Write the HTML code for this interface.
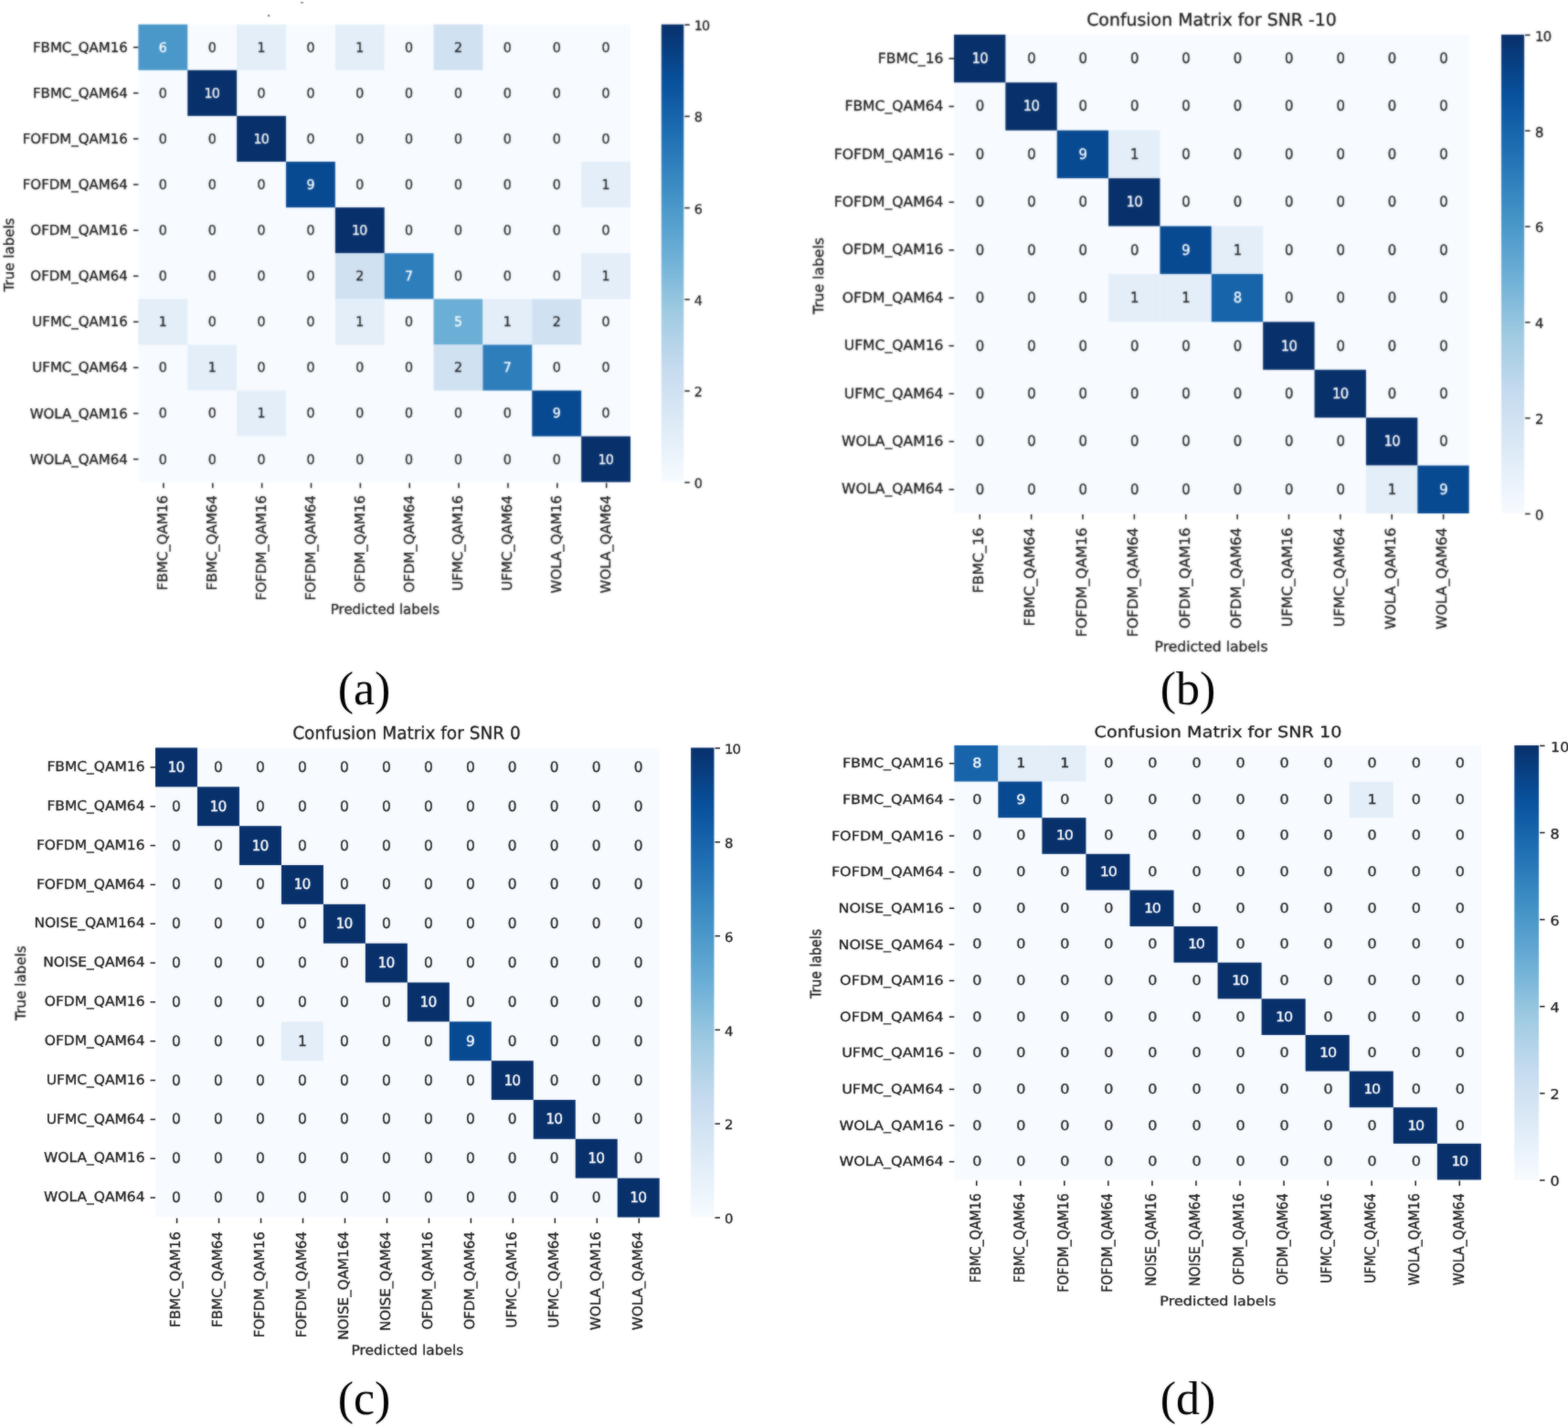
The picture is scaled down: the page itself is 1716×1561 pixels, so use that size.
<!DOCTYPE html>
<html lang="en">
<head>
<meta charset="utf-8">
<title>Confusion matrices</title>
<style>
html,body{margin:0;padding:0;background:#fff;}
body{width:1716px;height:1561px;}
svg{display:block;}
svg text{font-family:"DejaVu Sans","Liberation Sans",sans-serif;white-space:pre;text-rendering:geometricPrecision;}
svg text.cap{font-family:"Liberation Serif","DejaVu Serif",serif;}
</style>
</head>
<body>
<svg width="1716" height="1561" viewBox="0 0 1716 1561">
<rect width="1716" height="1561" fill="#ffffff"/>
<defs><filter id="bl" filterUnits="userSpaceOnUse" x="0" y="0" width="1716" height="1561" color-interpolation-filters="sRGB"><feGaussianBlur in="SourceGraphic" stdDeviation="1.0" result="b"/><feComposite in="SourceGraphic" in2="b" operator="arithmetic" k1="0" k2="0.6" k3="0.400" k4="0"/></filter></defs>
<defs><filter id="fa" filterUnits="userSpaceOnUse" x="0" y="0" width="858" height="700" color-interpolation-filters="sRGB"><feGaussianBlur in="SourceGraphic" stdDeviation="1.0" result="b"/><feComposite in="SourceGraphic" in2="b" operator="arithmetic" k1="0" k2="0.4" k3="0.600" k4="0"/></filter></defs>
<g class="p" filter="url(#fa)">
<rect x="151.40" y="26.70" width="538.60" height="501.00" fill="#f7fbff"/>
<rect x="151.40" y="26.70" width="53.86" height="50.10" fill="#4a98c9"/>
<rect x="259.12" y="26.70" width="53.86" height="50.10" fill="#e3eef9"/>
<rect x="366.84" y="26.70" width="53.86" height="50.10" fill="#e3eef9"/>
<rect x="474.56" y="26.70" width="53.86" height="50.10" fill="#d0e1f2"/>
<rect x="205.26" y="76.80" width="53.86" height="50.10" fill="#08306b"/>
<rect x="259.12" y="126.90" width="53.86" height="50.10" fill="#08306b"/>
<rect x="312.98" y="177.00" width="53.86" height="50.10" fill="#084a92"/>
<rect x="636.14" y="177.00" width="53.86" height="50.10" fill="#e3eef9"/>
<rect x="366.84" y="227.10" width="53.86" height="50.10" fill="#08306b"/>
<rect x="366.84" y="277.20" width="53.86" height="50.10" fill="#d0e1f2"/>
<rect x="420.70" y="277.20" width="53.86" height="50.10" fill="#2e7ebc"/>
<rect x="636.14" y="277.20" width="53.86" height="50.10" fill="#e3eef9"/>
<rect x="151.40" y="327.30" width="53.86" height="50.10" fill="#e3eef9"/>
<rect x="366.84" y="327.30" width="53.86" height="50.10" fill="#e3eef9"/>
<rect x="474.56" y="327.30" width="53.86" height="50.10" fill="#6baed6"/>
<rect x="528.42" y="327.30" width="53.86" height="50.10" fill="#e3eef9"/>
<rect x="582.28" y="327.30" width="53.86" height="50.10" fill="#d0e1f2"/>
<rect x="205.26" y="377.40" width="53.86" height="50.10" fill="#e3eef9"/>
<rect x="474.56" y="377.40" width="53.86" height="50.10" fill="#d0e1f2"/>
<rect x="528.42" y="377.40" width="53.86" height="50.10" fill="#2e7ebc"/>
<rect x="259.12" y="427.50" width="53.86" height="50.10" fill="#e3eef9"/>
<rect x="582.28" y="427.50" width="53.86" height="50.10" fill="#084a92"/>
<rect x="636.14" y="477.60" width="53.86" height="50.10" fill="#08306b"/>
<text transform="translate(178.33 56.69) scale(0.9709 1)" font-size="14.63" text-anchor="middle" fill="#ffffff" stroke="#ffffff" stroke-width="0.3">6</text>
<text transform="translate(232.19 56.69) scale(0.9709 1)" font-size="14.63" text-anchor="middle" fill="#262626" stroke="#262626" stroke-width="0.3">0</text>
<text transform="translate(286.05 56.69) scale(0.9709 1)" font-size="14.63" text-anchor="middle" fill="#262626" stroke="#262626" stroke-width="0.3">1</text>
<text transform="translate(339.91 56.69) scale(0.9709 1)" font-size="14.63" text-anchor="middle" fill="#262626" stroke="#262626" stroke-width="0.3">0</text>
<text transform="translate(393.77 56.69) scale(0.9709 1)" font-size="14.63" text-anchor="middle" fill="#262626" stroke="#262626" stroke-width="0.3">1</text>
<text transform="translate(447.63 56.69) scale(0.9709 1)" font-size="14.63" text-anchor="middle" fill="#262626" stroke="#262626" stroke-width="0.3">0</text>
<text transform="translate(501.49 56.69) scale(0.9709 1)" font-size="14.63" text-anchor="middle" fill="#262626" stroke="#262626" stroke-width="0.3">2</text>
<text transform="translate(555.35 56.69) scale(0.9709 1)" font-size="14.63" text-anchor="middle" fill="#262626" stroke="#262626" stroke-width="0.3">0</text>
<text transform="translate(609.21 56.69) scale(0.9709 1)" font-size="14.63" text-anchor="middle" fill="#262626" stroke="#262626" stroke-width="0.3">0</text>
<text transform="translate(663.07 56.69) scale(0.9709 1)" font-size="14.63" text-anchor="middle" fill="#262626" stroke="#262626" stroke-width="0.3">0</text>
<text transform="translate(178.33 106.79) scale(0.9709 1)" font-size="14.63" text-anchor="middle" fill="#262626" stroke="#262626" stroke-width="0.3">0</text>
<text transform="translate(231.79 106.79) scale(0.9709 1)" font-size="14.63" text-anchor="middle" fill="#ffffff" stroke="#ffffff" stroke-width="0.3" letter-spacing="-0.8">10</text>
<text transform="translate(286.05 106.79) scale(0.9709 1)" font-size="14.63" text-anchor="middle" fill="#262626" stroke="#262626" stroke-width="0.3">0</text>
<text transform="translate(339.91 106.79) scale(0.9709 1)" font-size="14.63" text-anchor="middle" fill="#262626" stroke="#262626" stroke-width="0.3">0</text>
<text transform="translate(393.77 106.79) scale(0.9709 1)" font-size="14.63" text-anchor="middle" fill="#262626" stroke="#262626" stroke-width="0.3">0</text>
<text transform="translate(447.63 106.79) scale(0.9709 1)" font-size="14.63" text-anchor="middle" fill="#262626" stroke="#262626" stroke-width="0.3">0</text>
<text transform="translate(501.49 106.79) scale(0.9709 1)" font-size="14.63" text-anchor="middle" fill="#262626" stroke="#262626" stroke-width="0.3">0</text>
<text transform="translate(555.35 106.79) scale(0.9709 1)" font-size="14.63" text-anchor="middle" fill="#262626" stroke="#262626" stroke-width="0.3">0</text>
<text transform="translate(609.21 106.79) scale(0.9709 1)" font-size="14.63" text-anchor="middle" fill="#262626" stroke="#262626" stroke-width="0.3">0</text>
<text transform="translate(663.07 106.79) scale(0.9709 1)" font-size="14.63" text-anchor="middle" fill="#262626" stroke="#262626" stroke-width="0.3">0</text>
<text transform="translate(178.33 156.89) scale(0.9709 1)" font-size="14.63" text-anchor="middle" fill="#262626" stroke="#262626" stroke-width="0.3">0</text>
<text transform="translate(232.19 156.89) scale(0.9709 1)" font-size="14.63" text-anchor="middle" fill="#262626" stroke="#262626" stroke-width="0.3">0</text>
<text transform="translate(285.65 156.89) scale(0.9709 1)" font-size="14.63" text-anchor="middle" fill="#ffffff" stroke="#ffffff" stroke-width="0.3" letter-spacing="-0.8">10</text>
<text transform="translate(339.91 156.89) scale(0.9709 1)" font-size="14.63" text-anchor="middle" fill="#262626" stroke="#262626" stroke-width="0.3">0</text>
<text transform="translate(393.77 156.89) scale(0.9709 1)" font-size="14.63" text-anchor="middle" fill="#262626" stroke="#262626" stroke-width="0.3">0</text>
<text transform="translate(447.63 156.89) scale(0.9709 1)" font-size="14.63" text-anchor="middle" fill="#262626" stroke="#262626" stroke-width="0.3">0</text>
<text transform="translate(501.49 156.89) scale(0.9709 1)" font-size="14.63" text-anchor="middle" fill="#262626" stroke="#262626" stroke-width="0.3">0</text>
<text transform="translate(555.35 156.89) scale(0.9709 1)" font-size="14.63" text-anchor="middle" fill="#262626" stroke="#262626" stroke-width="0.3">0</text>
<text transform="translate(609.21 156.89) scale(0.9709 1)" font-size="14.63" text-anchor="middle" fill="#262626" stroke="#262626" stroke-width="0.3">0</text>
<text transform="translate(663.07 156.89) scale(0.9709 1)" font-size="14.63" text-anchor="middle" fill="#262626" stroke="#262626" stroke-width="0.3">0</text>
<text transform="translate(178.33 206.99) scale(0.9709 1)" font-size="14.63" text-anchor="middle" fill="#262626" stroke="#262626" stroke-width="0.3">0</text>
<text transform="translate(232.19 206.99) scale(0.9709 1)" font-size="14.63" text-anchor="middle" fill="#262626" stroke="#262626" stroke-width="0.3">0</text>
<text transform="translate(286.05 206.99) scale(0.9709 1)" font-size="14.63" text-anchor="middle" fill="#262626" stroke="#262626" stroke-width="0.3">0</text>
<text transform="translate(339.91 206.99) scale(0.9709 1)" font-size="14.63" text-anchor="middle" fill="#ffffff" stroke="#ffffff" stroke-width="0.3">9</text>
<text transform="translate(393.77 206.99) scale(0.9709 1)" font-size="14.63" text-anchor="middle" fill="#262626" stroke="#262626" stroke-width="0.3">0</text>
<text transform="translate(447.63 206.99) scale(0.9709 1)" font-size="14.63" text-anchor="middle" fill="#262626" stroke="#262626" stroke-width="0.3">0</text>
<text transform="translate(501.49 206.99) scale(0.9709 1)" font-size="14.63" text-anchor="middle" fill="#262626" stroke="#262626" stroke-width="0.3">0</text>
<text transform="translate(555.35 206.99) scale(0.9709 1)" font-size="14.63" text-anchor="middle" fill="#262626" stroke="#262626" stroke-width="0.3">0</text>
<text transform="translate(609.21 206.99) scale(0.9709 1)" font-size="14.63" text-anchor="middle" fill="#262626" stroke="#262626" stroke-width="0.3">0</text>
<text transform="translate(663.07 206.99) scale(0.9709 1)" font-size="14.63" text-anchor="middle" fill="#262626" stroke="#262626" stroke-width="0.3">1</text>
<text transform="translate(178.33 257.09) scale(0.9709 1)" font-size="14.63" text-anchor="middle" fill="#262626" stroke="#262626" stroke-width="0.3">0</text>
<text transform="translate(232.19 257.09) scale(0.9709 1)" font-size="14.63" text-anchor="middle" fill="#262626" stroke="#262626" stroke-width="0.3">0</text>
<text transform="translate(286.05 257.09) scale(0.9709 1)" font-size="14.63" text-anchor="middle" fill="#262626" stroke="#262626" stroke-width="0.3">0</text>
<text transform="translate(339.91 257.09) scale(0.9709 1)" font-size="14.63" text-anchor="middle" fill="#262626" stroke="#262626" stroke-width="0.3">0</text>
<text transform="translate(393.37 257.09) scale(0.9709 1)" font-size="14.63" text-anchor="middle" fill="#ffffff" stroke="#ffffff" stroke-width="0.3" letter-spacing="-0.8">10</text>
<text transform="translate(447.63 257.09) scale(0.9709 1)" font-size="14.63" text-anchor="middle" fill="#262626" stroke="#262626" stroke-width="0.3">0</text>
<text transform="translate(501.49 257.09) scale(0.9709 1)" font-size="14.63" text-anchor="middle" fill="#262626" stroke="#262626" stroke-width="0.3">0</text>
<text transform="translate(555.35 257.09) scale(0.9709 1)" font-size="14.63" text-anchor="middle" fill="#262626" stroke="#262626" stroke-width="0.3">0</text>
<text transform="translate(609.21 257.09) scale(0.9709 1)" font-size="14.63" text-anchor="middle" fill="#262626" stroke="#262626" stroke-width="0.3">0</text>
<text transform="translate(663.07 257.09) scale(0.9709 1)" font-size="14.63" text-anchor="middle" fill="#262626" stroke="#262626" stroke-width="0.3">0</text>
<text transform="translate(178.33 307.19) scale(0.9709 1)" font-size="14.63" text-anchor="middle" fill="#262626" stroke="#262626" stroke-width="0.3">0</text>
<text transform="translate(232.19 307.19) scale(0.9709 1)" font-size="14.63" text-anchor="middle" fill="#262626" stroke="#262626" stroke-width="0.3">0</text>
<text transform="translate(286.05 307.19) scale(0.9709 1)" font-size="14.63" text-anchor="middle" fill="#262626" stroke="#262626" stroke-width="0.3">0</text>
<text transform="translate(339.91 307.19) scale(0.9709 1)" font-size="14.63" text-anchor="middle" fill="#262626" stroke="#262626" stroke-width="0.3">0</text>
<text transform="translate(393.77 307.19) scale(0.9709 1)" font-size="14.63" text-anchor="middle" fill="#262626" stroke="#262626" stroke-width="0.3">2</text>
<text transform="translate(447.63 307.19) scale(0.9709 1)" font-size="14.63" text-anchor="middle" fill="#ffffff" stroke="#ffffff" stroke-width="0.3">7</text>
<text transform="translate(501.49 307.19) scale(0.9709 1)" font-size="14.63" text-anchor="middle" fill="#262626" stroke="#262626" stroke-width="0.3">0</text>
<text transform="translate(555.35 307.19) scale(0.9709 1)" font-size="14.63" text-anchor="middle" fill="#262626" stroke="#262626" stroke-width="0.3">0</text>
<text transform="translate(609.21 307.19) scale(0.9709 1)" font-size="14.63" text-anchor="middle" fill="#262626" stroke="#262626" stroke-width="0.3">0</text>
<text transform="translate(663.07 307.19) scale(0.9709 1)" font-size="14.63" text-anchor="middle" fill="#262626" stroke="#262626" stroke-width="0.3">1</text>
<text transform="translate(178.33 357.29) scale(0.9709 1)" font-size="14.63" text-anchor="middle" fill="#262626" stroke="#262626" stroke-width="0.3">1</text>
<text transform="translate(232.19 357.29) scale(0.9709 1)" font-size="14.63" text-anchor="middle" fill="#262626" stroke="#262626" stroke-width="0.3">0</text>
<text transform="translate(286.05 357.29) scale(0.9709 1)" font-size="14.63" text-anchor="middle" fill="#262626" stroke="#262626" stroke-width="0.3">0</text>
<text transform="translate(339.91 357.29) scale(0.9709 1)" font-size="14.63" text-anchor="middle" fill="#262626" stroke="#262626" stroke-width="0.3">0</text>
<text transform="translate(393.77 357.29) scale(0.9709 1)" font-size="14.63" text-anchor="middle" fill="#262626" stroke="#262626" stroke-width="0.3">1</text>
<text transform="translate(447.63 357.29) scale(0.9709 1)" font-size="14.63" text-anchor="middle" fill="#262626" stroke="#262626" stroke-width="0.3">0</text>
<text transform="translate(501.49 357.29) scale(0.9709 1)" font-size="14.63" text-anchor="middle" fill="#ffffff" stroke="#ffffff" stroke-width="0.3">5</text>
<text transform="translate(555.35 357.29) scale(0.9709 1)" font-size="14.63" text-anchor="middle" fill="#262626" stroke="#262626" stroke-width="0.3">1</text>
<text transform="translate(609.21 357.29) scale(0.9709 1)" font-size="14.63" text-anchor="middle" fill="#262626" stroke="#262626" stroke-width="0.3">2</text>
<text transform="translate(663.07 357.29) scale(0.9709 1)" font-size="14.63" text-anchor="middle" fill="#262626" stroke="#262626" stroke-width="0.3">0</text>
<text transform="translate(178.33 407.39) scale(0.9709 1)" font-size="14.63" text-anchor="middle" fill="#262626" stroke="#262626" stroke-width="0.3">0</text>
<text transform="translate(232.19 407.39) scale(0.9709 1)" font-size="14.63" text-anchor="middle" fill="#262626" stroke="#262626" stroke-width="0.3">1</text>
<text transform="translate(286.05 407.39) scale(0.9709 1)" font-size="14.63" text-anchor="middle" fill="#262626" stroke="#262626" stroke-width="0.3">0</text>
<text transform="translate(339.91 407.39) scale(0.9709 1)" font-size="14.63" text-anchor="middle" fill="#262626" stroke="#262626" stroke-width="0.3">0</text>
<text transform="translate(393.77 407.39) scale(0.9709 1)" font-size="14.63" text-anchor="middle" fill="#262626" stroke="#262626" stroke-width="0.3">0</text>
<text transform="translate(447.63 407.39) scale(0.9709 1)" font-size="14.63" text-anchor="middle" fill="#262626" stroke="#262626" stroke-width="0.3">0</text>
<text transform="translate(501.49 407.39) scale(0.9709 1)" font-size="14.63" text-anchor="middle" fill="#262626" stroke="#262626" stroke-width="0.3">2</text>
<text transform="translate(555.35 407.39) scale(0.9709 1)" font-size="14.63" text-anchor="middle" fill="#ffffff" stroke="#ffffff" stroke-width="0.3">7</text>
<text transform="translate(609.21 407.39) scale(0.9709 1)" font-size="14.63" text-anchor="middle" fill="#262626" stroke="#262626" stroke-width="0.3">0</text>
<text transform="translate(663.07 407.39) scale(0.9709 1)" font-size="14.63" text-anchor="middle" fill="#262626" stroke="#262626" stroke-width="0.3">0</text>
<text transform="translate(178.33 457.49) scale(0.9709 1)" font-size="14.63" text-anchor="middle" fill="#262626" stroke="#262626" stroke-width="0.3">0</text>
<text transform="translate(232.19 457.49) scale(0.9709 1)" font-size="14.63" text-anchor="middle" fill="#262626" stroke="#262626" stroke-width="0.3">0</text>
<text transform="translate(286.05 457.49) scale(0.9709 1)" font-size="14.63" text-anchor="middle" fill="#262626" stroke="#262626" stroke-width="0.3">1</text>
<text transform="translate(339.91 457.49) scale(0.9709 1)" font-size="14.63" text-anchor="middle" fill="#262626" stroke="#262626" stroke-width="0.3">0</text>
<text transform="translate(393.77 457.49) scale(0.9709 1)" font-size="14.63" text-anchor="middle" fill="#262626" stroke="#262626" stroke-width="0.3">0</text>
<text transform="translate(447.63 457.49) scale(0.9709 1)" font-size="14.63" text-anchor="middle" fill="#262626" stroke="#262626" stroke-width="0.3">0</text>
<text transform="translate(501.49 457.49) scale(0.9709 1)" font-size="14.63" text-anchor="middle" fill="#262626" stroke="#262626" stroke-width="0.3">0</text>
<text transform="translate(555.35 457.49) scale(0.9709 1)" font-size="14.63" text-anchor="middle" fill="#262626" stroke="#262626" stroke-width="0.3">0</text>
<text transform="translate(609.21 457.49) scale(0.9709 1)" font-size="14.63" text-anchor="middle" fill="#ffffff" stroke="#ffffff" stroke-width="0.3">9</text>
<text transform="translate(663.07 457.49) scale(0.9709 1)" font-size="14.63" text-anchor="middle" fill="#262626" stroke="#262626" stroke-width="0.3">0</text>
<text transform="translate(178.33 507.59) scale(0.9709 1)" font-size="14.63" text-anchor="middle" fill="#262626" stroke="#262626" stroke-width="0.3">0</text>
<text transform="translate(232.19 507.59) scale(0.9709 1)" font-size="14.63" text-anchor="middle" fill="#262626" stroke="#262626" stroke-width="0.3">0</text>
<text transform="translate(286.05 507.59) scale(0.9709 1)" font-size="14.63" text-anchor="middle" fill="#262626" stroke="#262626" stroke-width="0.3">0</text>
<text transform="translate(339.91 507.59) scale(0.9709 1)" font-size="14.63" text-anchor="middle" fill="#262626" stroke="#262626" stroke-width="0.3">0</text>
<text transform="translate(393.77 507.59) scale(0.9709 1)" font-size="14.63" text-anchor="middle" fill="#262626" stroke="#262626" stroke-width="0.3">0</text>
<text transform="translate(447.63 507.59) scale(0.9709 1)" font-size="14.63" text-anchor="middle" fill="#262626" stroke="#262626" stroke-width="0.3">0</text>
<text transform="translate(501.49 507.59) scale(0.9709 1)" font-size="14.63" text-anchor="middle" fill="#262626" stroke="#262626" stroke-width="0.3">0</text>
<text transform="translate(555.35 507.59) scale(0.9709 1)" font-size="14.63" text-anchor="middle" fill="#262626" stroke="#262626" stroke-width="0.3">0</text>
<text transform="translate(609.21 507.59) scale(0.9709 1)" font-size="14.63" text-anchor="middle" fill="#262626" stroke="#262626" stroke-width="0.3">0</text>
<text transform="translate(662.67 507.59) scale(0.9709 1)" font-size="14.63" text-anchor="middle" fill="#ffffff" stroke="#ffffff" stroke-width="0.3" letter-spacing="-0.8">10</text>
<rect x="145.90" y="51.00" width="5.50" height="1.50" fill="#1a1a1a"/>
<text transform="translate(139.90 56.73)" font-size="15.00" text-anchor="end" fill="#1a1a1a" stroke="#1a1a1a" stroke-width="0.3">FBMC_QAM16</text>
<rect x="145.90" y="101.10" width="5.50" height="1.50" fill="#1a1a1a"/>
<text transform="translate(139.90 106.83)" font-size="15.00" text-anchor="end" fill="#1a1a1a" stroke="#1a1a1a" stroke-width="0.3">FBMC_QAM64</text>
<rect x="145.90" y="151.20" width="5.50" height="1.50" fill="#1a1a1a"/>
<text transform="translate(139.90 156.93)" font-size="15.00" text-anchor="end" fill="#1a1a1a" stroke="#1a1a1a" stroke-width="0.3">FOFDM_QAM16</text>
<rect x="145.90" y="201.30" width="5.50" height="1.50" fill="#1a1a1a"/>
<text transform="translate(139.90 207.03)" font-size="15.00" text-anchor="end" fill="#1a1a1a" stroke="#1a1a1a" stroke-width="0.3">FOFDM_QAM64</text>
<rect x="145.90" y="251.40" width="5.50" height="1.50" fill="#1a1a1a"/>
<text transform="translate(139.90 257.13)" font-size="15.00" text-anchor="end" fill="#1a1a1a" stroke="#1a1a1a" stroke-width="0.3">OFDM_QAM16</text>
<rect x="145.90" y="301.50" width="5.50" height="1.50" fill="#1a1a1a"/>
<text transform="translate(139.90 307.23)" font-size="15.00" text-anchor="end" fill="#1a1a1a" stroke="#1a1a1a" stroke-width="0.3">OFDM_QAM64</text>
<rect x="145.90" y="351.60" width="5.50" height="1.50" fill="#1a1a1a"/>
<text transform="translate(139.90 357.33)" font-size="15.00" text-anchor="end" fill="#1a1a1a" stroke="#1a1a1a" stroke-width="0.3">UFMC_QAM16</text>
<rect x="145.90" y="401.70" width="5.50" height="1.50" fill="#1a1a1a"/>
<text transform="translate(139.90 407.43)" font-size="15.00" text-anchor="end" fill="#1a1a1a" stroke="#1a1a1a" stroke-width="0.3">UFMC_QAM64</text>
<rect x="145.90" y="451.80" width="5.50" height="1.50" fill="#1a1a1a"/>
<text transform="translate(139.90 457.53)" font-size="15.00" text-anchor="end" fill="#1a1a1a" stroke="#1a1a1a" stroke-width="0.3">WOLA_QAM16</text>
<rect x="145.90" y="501.90" width="5.50" height="1.50" fill="#1a1a1a"/>
<text transform="translate(139.90 507.63)" font-size="15.00" text-anchor="end" fill="#1a1a1a" stroke="#1a1a1a" stroke-width="0.3">WOLA_QAM64</text>
<rect x="178.18" y="528.70" width="1.50" height="5.50" fill="#1a1a1a"/>
<text transform="translate(183.21 542.20) rotate(-90)" font-size="15.00" text-anchor="end" fill="#1a1a1a" stroke="#1a1a1a" stroke-width="0.3">FBMC_QAM16</text>
<rect x="232.04" y="528.70" width="1.50" height="5.50" fill="#1a1a1a"/>
<text transform="translate(237.06 542.20) rotate(-90)" font-size="15.00" text-anchor="end" fill="#1a1a1a" stroke="#1a1a1a" stroke-width="0.3">FBMC_QAM64</text>
<rect x="285.90" y="528.70" width="1.50" height="5.50" fill="#1a1a1a"/>
<text transform="translate(290.93 542.20) rotate(-90)" font-size="15.00" text-anchor="end" fill="#1a1a1a" stroke="#1a1a1a" stroke-width="0.3">FOFDM_QAM16</text>
<rect x="339.76" y="528.70" width="1.50" height="5.50" fill="#1a1a1a"/>
<text transform="translate(344.79 542.20) rotate(-90)" font-size="15.00" text-anchor="end" fill="#1a1a1a" stroke="#1a1a1a" stroke-width="0.3">FOFDM_QAM64</text>
<rect x="393.62" y="528.70" width="1.50" height="5.50" fill="#1a1a1a"/>
<text transform="translate(398.65 542.20) rotate(-90)" font-size="15.00" text-anchor="end" fill="#1a1a1a" stroke="#1a1a1a" stroke-width="0.3">OFDM_QAM16</text>
<rect x="447.48" y="528.70" width="1.50" height="5.50" fill="#1a1a1a"/>
<text transform="translate(452.51 542.20) rotate(-90)" font-size="15.00" text-anchor="end" fill="#1a1a1a" stroke="#1a1a1a" stroke-width="0.3">OFDM_QAM64</text>
<rect x="501.34" y="528.70" width="1.50" height="5.50" fill="#1a1a1a"/>
<text transform="translate(506.37 542.20) rotate(-90)" font-size="15.00" text-anchor="end" fill="#1a1a1a" stroke="#1a1a1a" stroke-width="0.3">UFMC_QAM16</text>
<rect x="555.20" y="528.70" width="1.50" height="5.50" fill="#1a1a1a"/>
<text transform="translate(560.23 542.20) rotate(-90)" font-size="15.00" text-anchor="end" fill="#1a1a1a" stroke="#1a1a1a" stroke-width="0.3">UFMC_QAM64</text>
<rect x="609.06" y="528.70" width="1.50" height="5.50" fill="#1a1a1a"/>
<text transform="translate(614.09 542.20) rotate(-90)" font-size="15.00" text-anchor="end" fill="#1a1a1a" stroke="#1a1a1a" stroke-width="0.3">WOLA_QAM16</text>
<rect x="662.92" y="528.70" width="1.50" height="5.50" fill="#1a1a1a"/>
<text transform="translate(667.95 542.20) rotate(-90)" font-size="15.00" text-anchor="end" fill="#1a1a1a" stroke="#1a1a1a" stroke-width="0.3">WOLA_QAM64</text>
<text transform="translate(421.40 672.00)" font-size="15.00" text-anchor="middle" fill="#1a1a1a" stroke="#1a1a1a" stroke-width="0.3">Predicted labels</text>
<text transform="translate(14.70 279.00) rotate(-90)" font-size="15.00" text-anchor="middle" fill="#1a1a1a" stroke="#1a1a1a" stroke-width="0.3">True labels</text>
<defs><linearGradient id="ga" x1="0" y1="0" x2="0" y2="1"><stop offset="0.0000" stop-color="#08306b"/><stop offset="0.1250" stop-color="#08519c"/><stop offset="0.2500" stop-color="#2171b5"/><stop offset="0.3750" stop-color="#4292c6"/><stop offset="0.5000" stop-color="#6baed6"/><stop offset="0.6250" stop-color="#9ecae1"/><stop offset="0.7500" stop-color="#c6dbef"/><stop offset="0.8750" stop-color="#deebf7"/><stop offset="1.0000" stop-color="#f7fbff"/></linearGradient></defs>
<rect x="723.80" y="26.70" width="24.50" height="501.00" fill="url(#ga)"/>
<rect x="749.30" y="527.45" width="5.50" height="1.50" fill="#1a1a1a"/>
<text transform="translate(759.80 534.22)" font-size="14.30" text-anchor="start" fill="#1a1a1a" stroke="#1a1a1a" stroke-width="0.3">0</text>
<rect x="749.30" y="427.25" width="5.50" height="1.50" fill="#1a1a1a"/>
<text transform="translate(759.80 434.02)" font-size="14.30" text-anchor="start" fill="#1a1a1a" stroke="#1a1a1a" stroke-width="0.3">2</text>
<rect x="749.30" y="327.05" width="5.50" height="1.50" fill="#1a1a1a"/>
<text transform="translate(759.80 333.82)" font-size="14.30" text-anchor="start" fill="#1a1a1a" stroke="#1a1a1a" stroke-width="0.3">4</text>
<rect x="749.30" y="226.85" width="5.50" height="1.50" fill="#1a1a1a"/>
<text transform="translate(759.80 233.62)" font-size="14.30" text-anchor="start" fill="#1a1a1a" stroke="#1a1a1a" stroke-width="0.3">6</text>
<rect x="749.30" y="126.65" width="5.50" height="1.50" fill="#1a1a1a"/>
<text transform="translate(759.80 133.42)" font-size="14.30" text-anchor="start" fill="#1a1a1a" stroke="#1a1a1a" stroke-width="0.3">8</text>
<rect x="749.30" y="26.45" width="5.50" height="1.50" fill="#1a1a1a"/>
<text transform="translate(759.80 33.22)" font-size="14.30" text-anchor="start" fill="#1a1a1a" stroke="#1a1a1a" stroke-width="0.3" letter-spacing="-0.8">10</text>
<rect x="293.2" y="16.2" width="1.9" height="1.9" fill="#555"/><rect x="328.8" y="2.2" width="3.2" height="1.3" fill="#666"/>
</g>
<defs><filter id="fb" filterUnits="userSpaceOnUse" x="858" y="0" width="858" height="730" color-interpolation-filters="sRGB"><feGaussianBlur in="SourceGraphic" stdDeviation="1.0" result="b"/><feComposite in="SourceGraphic" in2="b" operator="arithmetic" k1="0" k2="0.4" k3="0.600" k4="0"/></filter></defs>
<g class="p" filter="url(#fb)">
<rect x="1044.00" y="37.90" width="563.70" height="524.10" fill="#f7fbff"/>
<rect x="1044.00" y="37.90" width="56.37" height="52.41" fill="#08306b"/>
<rect x="1100.37" y="90.31" width="56.37" height="52.41" fill="#08306b"/>
<rect x="1156.74" y="142.72" width="56.37" height="52.41" fill="#084a92"/>
<rect x="1213.11" y="142.72" width="56.37" height="52.41" fill="#e3eef9"/>
<rect x="1213.11" y="195.13" width="56.37" height="52.41" fill="#08306b"/>
<rect x="1269.48" y="247.54" width="56.37" height="52.41" fill="#084a92"/>
<rect x="1325.85" y="247.54" width="56.37" height="52.41" fill="#e3eef9"/>
<rect x="1213.11" y="299.95" width="56.37" height="52.41" fill="#e3eef9"/>
<rect x="1269.48" y="299.95" width="56.37" height="52.41" fill="#e3eef9"/>
<rect x="1325.85" y="299.95" width="56.37" height="52.41" fill="#1764ab"/>
<rect x="1382.22" y="352.36" width="56.37" height="52.41" fill="#08306b"/>
<rect x="1438.59" y="404.77" width="56.37" height="52.41" fill="#08306b"/>
<rect x="1494.96" y="457.18" width="56.37" height="52.41" fill="#08306b"/>
<rect x="1494.96" y="509.59" width="56.37" height="52.41" fill="#e3eef9"/>
<rect x="1551.33" y="509.59" width="56.37" height="52.41" fill="#084a92"/>
<text transform="translate(1072.18 69.07) scale(0.9434 1)" font-size="15.79" text-anchor="middle" fill="#ffffff" stroke="#ffffff" stroke-width="0.3" letter-spacing="-0.8">10</text>
<text transform="translate(1128.96 69.07) scale(0.9434 1)" font-size="15.79" text-anchor="middle" fill="#262626" stroke="#262626" stroke-width="0.3">0</text>
<text transform="translate(1185.33 69.07) scale(0.9434 1)" font-size="15.79" text-anchor="middle" fill="#262626" stroke="#262626" stroke-width="0.3">0</text>
<text transform="translate(1241.70 69.07) scale(0.9434 1)" font-size="15.79" text-anchor="middle" fill="#262626" stroke="#262626" stroke-width="0.3">0</text>
<text transform="translate(1298.07 69.07) scale(0.9434 1)" font-size="15.79" text-anchor="middle" fill="#262626" stroke="#262626" stroke-width="0.3">0</text>
<text transform="translate(1354.44 69.07) scale(0.9434 1)" font-size="15.79" text-anchor="middle" fill="#262626" stroke="#262626" stroke-width="0.3">0</text>
<text transform="translate(1410.81 69.07) scale(0.9434 1)" font-size="15.79" text-anchor="middle" fill="#262626" stroke="#262626" stroke-width="0.3">0</text>
<text transform="translate(1467.18 69.07) scale(0.9434 1)" font-size="15.79" text-anchor="middle" fill="#262626" stroke="#262626" stroke-width="0.3">0</text>
<text transform="translate(1523.55 69.07) scale(0.9434 1)" font-size="15.79" text-anchor="middle" fill="#262626" stroke="#262626" stroke-width="0.3">0</text>
<text transform="translate(1579.92 69.07) scale(0.9434 1)" font-size="15.79" text-anchor="middle" fill="#262626" stroke="#262626" stroke-width="0.3">0</text>
<text transform="translate(1072.59 121.48) scale(0.9434 1)" font-size="15.79" text-anchor="middle" fill="#262626" stroke="#262626" stroke-width="0.3">0</text>
<text transform="translate(1128.56 121.48) scale(0.9434 1)" font-size="15.79" text-anchor="middle" fill="#ffffff" stroke="#ffffff" stroke-width="0.3" letter-spacing="-0.8">10</text>
<text transform="translate(1185.33 121.48) scale(0.9434 1)" font-size="15.79" text-anchor="middle" fill="#262626" stroke="#262626" stroke-width="0.3">0</text>
<text transform="translate(1241.70 121.48) scale(0.9434 1)" font-size="15.79" text-anchor="middle" fill="#262626" stroke="#262626" stroke-width="0.3">0</text>
<text transform="translate(1298.07 121.48) scale(0.9434 1)" font-size="15.79" text-anchor="middle" fill="#262626" stroke="#262626" stroke-width="0.3">0</text>
<text transform="translate(1354.44 121.48) scale(0.9434 1)" font-size="15.79" text-anchor="middle" fill="#262626" stroke="#262626" stroke-width="0.3">0</text>
<text transform="translate(1410.81 121.48) scale(0.9434 1)" font-size="15.79" text-anchor="middle" fill="#262626" stroke="#262626" stroke-width="0.3">0</text>
<text transform="translate(1467.18 121.48) scale(0.9434 1)" font-size="15.79" text-anchor="middle" fill="#262626" stroke="#262626" stroke-width="0.3">0</text>
<text transform="translate(1523.55 121.48) scale(0.9434 1)" font-size="15.79" text-anchor="middle" fill="#262626" stroke="#262626" stroke-width="0.3">0</text>
<text transform="translate(1579.92 121.48) scale(0.9434 1)" font-size="15.79" text-anchor="middle" fill="#262626" stroke="#262626" stroke-width="0.3">0</text>
<text transform="translate(1072.59 173.89) scale(0.9434 1)" font-size="15.79" text-anchor="middle" fill="#262626" stroke="#262626" stroke-width="0.3">0</text>
<text transform="translate(1128.96 173.89) scale(0.9434 1)" font-size="15.79" text-anchor="middle" fill="#262626" stroke="#262626" stroke-width="0.3">0</text>
<text transform="translate(1185.33 173.89) scale(0.9434 1)" font-size="15.79" text-anchor="middle" fill="#ffffff" stroke="#ffffff" stroke-width="0.3">9</text>
<text transform="translate(1241.70 173.89) scale(0.9434 1)" font-size="15.79" text-anchor="middle" fill="#262626" stroke="#262626" stroke-width="0.3">1</text>
<text transform="translate(1298.07 173.89) scale(0.9434 1)" font-size="15.79" text-anchor="middle" fill="#262626" stroke="#262626" stroke-width="0.3">0</text>
<text transform="translate(1354.44 173.89) scale(0.9434 1)" font-size="15.79" text-anchor="middle" fill="#262626" stroke="#262626" stroke-width="0.3">0</text>
<text transform="translate(1410.81 173.89) scale(0.9434 1)" font-size="15.79" text-anchor="middle" fill="#262626" stroke="#262626" stroke-width="0.3">0</text>
<text transform="translate(1467.18 173.89) scale(0.9434 1)" font-size="15.79" text-anchor="middle" fill="#262626" stroke="#262626" stroke-width="0.3">0</text>
<text transform="translate(1523.55 173.89) scale(0.9434 1)" font-size="15.79" text-anchor="middle" fill="#262626" stroke="#262626" stroke-width="0.3">0</text>
<text transform="translate(1579.92 173.89) scale(0.9434 1)" font-size="15.79" text-anchor="middle" fill="#262626" stroke="#262626" stroke-width="0.3">0</text>
<text transform="translate(1072.59 226.30) scale(0.9434 1)" font-size="15.79" text-anchor="middle" fill="#262626" stroke="#262626" stroke-width="0.3">0</text>
<text transform="translate(1128.96 226.30) scale(0.9434 1)" font-size="15.79" text-anchor="middle" fill="#262626" stroke="#262626" stroke-width="0.3">0</text>
<text transform="translate(1185.33 226.30) scale(0.9434 1)" font-size="15.79" text-anchor="middle" fill="#262626" stroke="#262626" stroke-width="0.3">0</text>
<text transform="translate(1241.30 226.30) scale(0.9434 1)" font-size="15.79" text-anchor="middle" fill="#ffffff" stroke="#ffffff" stroke-width="0.3" letter-spacing="-0.8">10</text>
<text transform="translate(1298.07 226.30) scale(0.9434 1)" font-size="15.79" text-anchor="middle" fill="#262626" stroke="#262626" stroke-width="0.3">0</text>
<text transform="translate(1354.44 226.30) scale(0.9434 1)" font-size="15.79" text-anchor="middle" fill="#262626" stroke="#262626" stroke-width="0.3">0</text>
<text transform="translate(1410.81 226.30) scale(0.9434 1)" font-size="15.79" text-anchor="middle" fill="#262626" stroke="#262626" stroke-width="0.3">0</text>
<text transform="translate(1467.18 226.30) scale(0.9434 1)" font-size="15.79" text-anchor="middle" fill="#262626" stroke="#262626" stroke-width="0.3">0</text>
<text transform="translate(1523.55 226.30) scale(0.9434 1)" font-size="15.79" text-anchor="middle" fill="#262626" stroke="#262626" stroke-width="0.3">0</text>
<text transform="translate(1579.92 226.30) scale(0.9434 1)" font-size="15.79" text-anchor="middle" fill="#262626" stroke="#262626" stroke-width="0.3">0</text>
<text transform="translate(1072.59 278.71) scale(0.9434 1)" font-size="15.79" text-anchor="middle" fill="#262626" stroke="#262626" stroke-width="0.3">0</text>
<text transform="translate(1128.96 278.71) scale(0.9434 1)" font-size="15.79" text-anchor="middle" fill="#262626" stroke="#262626" stroke-width="0.3">0</text>
<text transform="translate(1185.33 278.71) scale(0.9434 1)" font-size="15.79" text-anchor="middle" fill="#262626" stroke="#262626" stroke-width="0.3">0</text>
<text transform="translate(1241.70 278.71) scale(0.9434 1)" font-size="15.79" text-anchor="middle" fill="#262626" stroke="#262626" stroke-width="0.3">0</text>
<text transform="translate(1298.07 278.71) scale(0.9434 1)" font-size="15.79" text-anchor="middle" fill="#ffffff" stroke="#ffffff" stroke-width="0.3">9</text>
<text transform="translate(1354.44 278.71) scale(0.9434 1)" font-size="15.79" text-anchor="middle" fill="#262626" stroke="#262626" stroke-width="0.3">1</text>
<text transform="translate(1410.81 278.71) scale(0.9434 1)" font-size="15.79" text-anchor="middle" fill="#262626" stroke="#262626" stroke-width="0.3">0</text>
<text transform="translate(1467.18 278.71) scale(0.9434 1)" font-size="15.79" text-anchor="middle" fill="#262626" stroke="#262626" stroke-width="0.3">0</text>
<text transform="translate(1523.55 278.71) scale(0.9434 1)" font-size="15.79" text-anchor="middle" fill="#262626" stroke="#262626" stroke-width="0.3">0</text>
<text transform="translate(1579.92 278.71) scale(0.9434 1)" font-size="15.79" text-anchor="middle" fill="#262626" stroke="#262626" stroke-width="0.3">0</text>
<text transform="translate(1072.59 331.12) scale(0.9434 1)" font-size="15.79" text-anchor="middle" fill="#262626" stroke="#262626" stroke-width="0.3">0</text>
<text transform="translate(1128.96 331.12) scale(0.9434 1)" font-size="15.79" text-anchor="middle" fill="#262626" stroke="#262626" stroke-width="0.3">0</text>
<text transform="translate(1185.33 331.12) scale(0.9434 1)" font-size="15.79" text-anchor="middle" fill="#262626" stroke="#262626" stroke-width="0.3">0</text>
<text transform="translate(1241.70 331.12) scale(0.9434 1)" font-size="15.79" text-anchor="middle" fill="#262626" stroke="#262626" stroke-width="0.3">1</text>
<text transform="translate(1298.07 331.12) scale(0.9434 1)" font-size="15.79" text-anchor="middle" fill="#262626" stroke="#262626" stroke-width="0.3">1</text>
<text transform="translate(1354.44 331.12) scale(0.9434 1)" font-size="15.79" text-anchor="middle" fill="#ffffff" stroke="#ffffff" stroke-width="0.3">8</text>
<text transform="translate(1410.81 331.12) scale(0.9434 1)" font-size="15.79" text-anchor="middle" fill="#262626" stroke="#262626" stroke-width="0.3">0</text>
<text transform="translate(1467.18 331.12) scale(0.9434 1)" font-size="15.79" text-anchor="middle" fill="#262626" stroke="#262626" stroke-width="0.3">0</text>
<text transform="translate(1523.55 331.12) scale(0.9434 1)" font-size="15.79" text-anchor="middle" fill="#262626" stroke="#262626" stroke-width="0.3">0</text>
<text transform="translate(1579.92 331.12) scale(0.9434 1)" font-size="15.79" text-anchor="middle" fill="#262626" stroke="#262626" stroke-width="0.3">0</text>
<text transform="translate(1072.59 383.53) scale(0.9434 1)" font-size="15.79" text-anchor="middle" fill="#262626" stroke="#262626" stroke-width="0.3">0</text>
<text transform="translate(1128.96 383.53) scale(0.9434 1)" font-size="15.79" text-anchor="middle" fill="#262626" stroke="#262626" stroke-width="0.3">0</text>
<text transform="translate(1185.33 383.53) scale(0.9434 1)" font-size="15.79" text-anchor="middle" fill="#262626" stroke="#262626" stroke-width="0.3">0</text>
<text transform="translate(1241.70 383.53) scale(0.9434 1)" font-size="15.79" text-anchor="middle" fill="#262626" stroke="#262626" stroke-width="0.3">0</text>
<text transform="translate(1298.07 383.53) scale(0.9434 1)" font-size="15.79" text-anchor="middle" fill="#262626" stroke="#262626" stroke-width="0.3">0</text>
<text transform="translate(1354.44 383.53) scale(0.9434 1)" font-size="15.79" text-anchor="middle" fill="#262626" stroke="#262626" stroke-width="0.3">0</text>
<text transform="translate(1410.40 383.53) scale(0.9434 1)" font-size="15.79" text-anchor="middle" fill="#ffffff" stroke="#ffffff" stroke-width="0.3" letter-spacing="-0.8">10</text>
<text transform="translate(1467.18 383.53) scale(0.9434 1)" font-size="15.79" text-anchor="middle" fill="#262626" stroke="#262626" stroke-width="0.3">0</text>
<text transform="translate(1523.55 383.53) scale(0.9434 1)" font-size="15.79" text-anchor="middle" fill="#262626" stroke="#262626" stroke-width="0.3">0</text>
<text transform="translate(1579.92 383.53) scale(0.9434 1)" font-size="15.79" text-anchor="middle" fill="#262626" stroke="#262626" stroke-width="0.3">0</text>
<text transform="translate(1072.59 435.94) scale(0.9434 1)" font-size="15.79" text-anchor="middle" fill="#262626" stroke="#262626" stroke-width="0.3">0</text>
<text transform="translate(1128.96 435.94) scale(0.9434 1)" font-size="15.79" text-anchor="middle" fill="#262626" stroke="#262626" stroke-width="0.3">0</text>
<text transform="translate(1185.33 435.94) scale(0.9434 1)" font-size="15.79" text-anchor="middle" fill="#262626" stroke="#262626" stroke-width="0.3">0</text>
<text transform="translate(1241.70 435.94) scale(0.9434 1)" font-size="15.79" text-anchor="middle" fill="#262626" stroke="#262626" stroke-width="0.3">0</text>
<text transform="translate(1298.07 435.94) scale(0.9434 1)" font-size="15.79" text-anchor="middle" fill="#262626" stroke="#262626" stroke-width="0.3">0</text>
<text transform="translate(1354.44 435.94) scale(0.9434 1)" font-size="15.79" text-anchor="middle" fill="#262626" stroke="#262626" stroke-width="0.3">0</text>
<text transform="translate(1410.81 435.94) scale(0.9434 1)" font-size="15.79" text-anchor="middle" fill="#262626" stroke="#262626" stroke-width="0.3">0</text>
<text transform="translate(1466.78 435.94) scale(0.9434 1)" font-size="15.79" text-anchor="middle" fill="#ffffff" stroke="#ffffff" stroke-width="0.3" letter-spacing="-0.8">10</text>
<text transform="translate(1523.55 435.94) scale(0.9434 1)" font-size="15.79" text-anchor="middle" fill="#262626" stroke="#262626" stroke-width="0.3">0</text>
<text transform="translate(1579.92 435.94) scale(0.9434 1)" font-size="15.79" text-anchor="middle" fill="#262626" stroke="#262626" stroke-width="0.3">0</text>
<text transform="translate(1072.59 488.35) scale(0.9434 1)" font-size="15.79" text-anchor="middle" fill="#262626" stroke="#262626" stroke-width="0.3">0</text>
<text transform="translate(1128.96 488.35) scale(0.9434 1)" font-size="15.79" text-anchor="middle" fill="#262626" stroke="#262626" stroke-width="0.3">0</text>
<text transform="translate(1185.33 488.35) scale(0.9434 1)" font-size="15.79" text-anchor="middle" fill="#262626" stroke="#262626" stroke-width="0.3">0</text>
<text transform="translate(1241.70 488.35) scale(0.9434 1)" font-size="15.79" text-anchor="middle" fill="#262626" stroke="#262626" stroke-width="0.3">0</text>
<text transform="translate(1298.07 488.35) scale(0.9434 1)" font-size="15.79" text-anchor="middle" fill="#262626" stroke="#262626" stroke-width="0.3">0</text>
<text transform="translate(1354.44 488.35) scale(0.9434 1)" font-size="15.79" text-anchor="middle" fill="#262626" stroke="#262626" stroke-width="0.3">0</text>
<text transform="translate(1410.81 488.35) scale(0.9434 1)" font-size="15.79" text-anchor="middle" fill="#262626" stroke="#262626" stroke-width="0.3">0</text>
<text transform="translate(1467.18 488.35) scale(0.9434 1)" font-size="15.79" text-anchor="middle" fill="#262626" stroke="#262626" stroke-width="0.3">0</text>
<text transform="translate(1523.14 488.35) scale(0.9434 1)" font-size="15.79" text-anchor="middle" fill="#ffffff" stroke="#ffffff" stroke-width="0.3" letter-spacing="-0.8">10</text>
<text transform="translate(1579.92 488.35) scale(0.9434 1)" font-size="15.79" text-anchor="middle" fill="#262626" stroke="#262626" stroke-width="0.3">0</text>
<text transform="translate(1072.59 540.76) scale(0.9434 1)" font-size="15.79" text-anchor="middle" fill="#262626" stroke="#262626" stroke-width="0.3">0</text>
<text transform="translate(1128.96 540.76) scale(0.9434 1)" font-size="15.79" text-anchor="middle" fill="#262626" stroke="#262626" stroke-width="0.3">0</text>
<text transform="translate(1185.33 540.76) scale(0.9434 1)" font-size="15.79" text-anchor="middle" fill="#262626" stroke="#262626" stroke-width="0.3">0</text>
<text transform="translate(1241.70 540.76) scale(0.9434 1)" font-size="15.79" text-anchor="middle" fill="#262626" stroke="#262626" stroke-width="0.3">0</text>
<text transform="translate(1298.07 540.76) scale(0.9434 1)" font-size="15.79" text-anchor="middle" fill="#262626" stroke="#262626" stroke-width="0.3">0</text>
<text transform="translate(1354.44 540.76) scale(0.9434 1)" font-size="15.79" text-anchor="middle" fill="#262626" stroke="#262626" stroke-width="0.3">0</text>
<text transform="translate(1410.81 540.76) scale(0.9434 1)" font-size="15.79" text-anchor="middle" fill="#262626" stroke="#262626" stroke-width="0.3">0</text>
<text transform="translate(1467.18 540.76) scale(0.9434 1)" font-size="15.79" text-anchor="middle" fill="#262626" stroke="#262626" stroke-width="0.3">0</text>
<text transform="translate(1523.55 540.76) scale(0.9434 1)" font-size="15.79" text-anchor="middle" fill="#262626" stroke="#262626" stroke-width="0.3">1</text>
<text transform="translate(1579.92 540.76) scale(0.9434 1)" font-size="15.79" text-anchor="middle" fill="#ffffff" stroke="#ffffff" stroke-width="0.3">9</text>
<rect x="1038.50" y="63.36" width="5.50" height="1.50" fill="#1a1a1a"/>
<text transform="translate(1032.50 68.69) scale(1.0204 1)" font-size="15.29" text-anchor="end" fill="#1a1a1a" stroke="#1a1a1a" stroke-width="0.3">FBMC_16</text>
<rect x="1038.50" y="115.77" width="5.50" height="1.50" fill="#1a1a1a"/>
<text transform="translate(1032.50 121.10) scale(1.0204 1)" font-size="15.29" text-anchor="end" fill="#1a1a1a" stroke="#1a1a1a" stroke-width="0.3">FBMC_QAM64</text>
<rect x="1038.50" y="168.18" width="5.50" height="1.50" fill="#1a1a1a"/>
<text transform="translate(1032.50 173.51) scale(1.0204 1)" font-size="15.29" text-anchor="end" fill="#1a1a1a" stroke="#1a1a1a" stroke-width="0.3">FOFDM_QAM16</text>
<rect x="1038.50" y="220.59" width="5.50" height="1.50" fill="#1a1a1a"/>
<text transform="translate(1032.50 225.92) scale(1.0204 1)" font-size="15.29" text-anchor="end" fill="#1a1a1a" stroke="#1a1a1a" stroke-width="0.3">FOFDM_QAM64</text>
<rect x="1038.50" y="273.00" width="5.50" height="1.50" fill="#1a1a1a"/>
<text transform="translate(1032.50 278.33) scale(1.0204 1)" font-size="15.29" text-anchor="end" fill="#1a1a1a" stroke="#1a1a1a" stroke-width="0.3">OFDM_QAM16</text>
<rect x="1038.50" y="325.40" width="5.50" height="1.50" fill="#1a1a1a"/>
<text transform="translate(1032.50 330.74) scale(1.0204 1)" font-size="15.29" text-anchor="end" fill="#1a1a1a" stroke="#1a1a1a" stroke-width="0.3">OFDM_QAM64</text>
<rect x="1038.50" y="377.81" width="5.50" height="1.50" fill="#1a1a1a"/>
<text transform="translate(1032.50 383.15) scale(1.0204 1)" font-size="15.29" text-anchor="end" fill="#1a1a1a" stroke="#1a1a1a" stroke-width="0.3">UFMC_QAM16</text>
<rect x="1038.50" y="430.23" width="5.50" height="1.50" fill="#1a1a1a"/>
<text transform="translate(1032.50 435.56) scale(1.0204 1)" font-size="15.29" text-anchor="end" fill="#1a1a1a" stroke="#1a1a1a" stroke-width="0.3">UFMC_QAM64</text>
<rect x="1038.50" y="482.63" width="5.50" height="1.50" fill="#1a1a1a"/>
<text transform="translate(1032.50 487.97) scale(1.0204 1)" font-size="15.29" text-anchor="end" fill="#1a1a1a" stroke="#1a1a1a" stroke-width="0.3">WOLA_QAM16</text>
<rect x="1038.50" y="535.05" width="5.50" height="1.50" fill="#1a1a1a"/>
<text transform="translate(1032.50 540.38) scale(1.0204 1)" font-size="15.29" text-anchor="end" fill="#1a1a1a" stroke="#1a1a1a" stroke-width="0.3">WOLA_QAM64</text>
<rect x="1071.53" y="563.00" width="1.50" height="5.50" fill="#1a1a1a"/>
<text transform="translate(1076.07 577.50) rotate(-90) scale(1.0204 1)" font-size="15.29" text-anchor="end" fill="#1a1a1a" stroke="#1a1a1a" stroke-width="0.3">FBMC_16</text>
<rect x="1127.90" y="563.00" width="1.50" height="5.50" fill="#1a1a1a"/>
<text transform="translate(1132.44 577.50) rotate(-90) scale(1.0204 1)" font-size="15.29" text-anchor="end" fill="#1a1a1a" stroke="#1a1a1a" stroke-width="0.3">FBMC_QAM64</text>
<rect x="1184.27" y="563.00" width="1.50" height="5.50" fill="#1a1a1a"/>
<text transform="translate(1188.81 577.50) rotate(-90) scale(1.0204 1)" font-size="15.29" text-anchor="end" fill="#1a1a1a" stroke="#1a1a1a" stroke-width="0.3">FOFDM_QAM16</text>
<rect x="1240.64" y="563.00" width="1.50" height="5.50" fill="#1a1a1a"/>
<text transform="translate(1245.18 577.50) rotate(-90) scale(1.0204 1)" font-size="15.29" text-anchor="end" fill="#1a1a1a" stroke="#1a1a1a" stroke-width="0.3">FOFDM_QAM64</text>
<rect x="1297.01" y="563.00" width="1.50" height="5.50" fill="#1a1a1a"/>
<text transform="translate(1301.55 577.50) rotate(-90) scale(1.0204 1)" font-size="15.29" text-anchor="end" fill="#1a1a1a" stroke="#1a1a1a" stroke-width="0.3">OFDM_QAM16</text>
<rect x="1353.38" y="563.00" width="1.50" height="5.50" fill="#1a1a1a"/>
<text transform="translate(1357.92 577.50) rotate(-90) scale(1.0204 1)" font-size="15.29" text-anchor="end" fill="#1a1a1a" stroke="#1a1a1a" stroke-width="0.3">OFDM_QAM64</text>
<rect x="1409.75" y="563.00" width="1.50" height="5.50" fill="#1a1a1a"/>
<text transform="translate(1414.29 577.50) rotate(-90) scale(1.0204 1)" font-size="15.29" text-anchor="end" fill="#1a1a1a" stroke="#1a1a1a" stroke-width="0.3">UFMC_QAM16</text>
<rect x="1466.12" y="563.00" width="1.50" height="5.50" fill="#1a1a1a"/>
<text transform="translate(1470.66 577.50) rotate(-90) scale(1.0204 1)" font-size="15.29" text-anchor="end" fill="#1a1a1a" stroke="#1a1a1a" stroke-width="0.3">UFMC_QAM64</text>
<rect x="1522.49" y="563.00" width="1.50" height="5.50" fill="#1a1a1a"/>
<text transform="translate(1527.03 577.50) rotate(-90) scale(1.0204 1)" font-size="15.29" text-anchor="end" fill="#1a1a1a" stroke="#1a1a1a" stroke-width="0.3">WOLA_QAM16</text>
<rect x="1578.87" y="563.00" width="1.50" height="5.50" fill="#1a1a1a"/>
<text transform="translate(1583.40 577.50) rotate(-90) scale(1.0204 1)" font-size="15.29" text-anchor="end" fill="#1a1a1a" stroke="#1a1a1a" stroke-width="0.3">WOLA_QAM64</text>
<text transform="translate(1325.50 713.00) scale(1.0204 1)" font-size="15.29" text-anchor="middle" fill="#1a1a1a" stroke="#1a1a1a" stroke-width="0.3">Predicted labels</text>
<text transform="translate(901.00 302.00) rotate(-90) scale(1.0204 1)" font-size="15.29" text-anchor="middle" fill="#1a1a1a" stroke="#1a1a1a" stroke-width="0.3">True labels</text>
<text transform="translate(1326.00 28.00)" font-size="18.91" text-anchor="middle" fill="#1a1a1a" stroke="#1a1a1a" stroke-width="0.3">Confusion Matrix for SNR -10</text>
<defs><linearGradient id="gb" x1="0" y1="0" x2="0" y2="1"><stop offset="0.0000" stop-color="#08306b"/><stop offset="0.1250" stop-color="#08519c"/><stop offset="0.2500" stop-color="#2171b5"/><stop offset="0.3750" stop-color="#4292c6"/><stop offset="0.5000" stop-color="#6baed6"/><stop offset="0.6250" stop-color="#9ecae1"/><stop offset="0.7500" stop-color="#c6dbef"/><stop offset="0.8750" stop-color="#deebf7"/><stop offset="1.0000" stop-color="#f7fbff"/></linearGradient></defs>
<rect x="1643.00" y="37.90" width="25.10" height="524.10" fill="url(#gb)"/>
<rect x="1669.10" y="561.75" width="5.50" height="1.50" fill="#1a1a1a"/>
<text transform="translate(1680.10 568.80)" font-size="14.80" text-anchor="start" fill="#1a1a1a" stroke="#1a1a1a" stroke-width="0.3">0</text>
<rect x="1669.10" y="456.93" width="5.50" height="1.50" fill="#1a1a1a"/>
<text transform="translate(1680.10 463.98)" font-size="14.80" text-anchor="start" fill="#1a1a1a" stroke="#1a1a1a" stroke-width="0.3">2</text>
<rect x="1669.10" y="352.11" width="5.50" height="1.50" fill="#1a1a1a"/>
<text transform="translate(1680.10 359.16)" font-size="14.80" text-anchor="start" fill="#1a1a1a" stroke="#1a1a1a" stroke-width="0.3">4</text>
<rect x="1669.10" y="247.29" width="5.50" height="1.50" fill="#1a1a1a"/>
<text transform="translate(1680.10 254.34)" font-size="14.80" text-anchor="start" fill="#1a1a1a" stroke="#1a1a1a" stroke-width="0.3">6</text>
<rect x="1669.10" y="142.47" width="5.50" height="1.50" fill="#1a1a1a"/>
<text transform="translate(1680.10 149.52)" font-size="14.80" text-anchor="start" fill="#1a1a1a" stroke="#1a1a1a" stroke-width="0.3">8</text>
<rect x="1669.10" y="37.65" width="5.50" height="1.50" fill="#1a1a1a"/>
<text transform="translate(1680.10 44.70)" font-size="14.80" text-anchor="start" fill="#1a1a1a" stroke="#1a1a1a" stroke-width="0.3" letter-spacing="-0.8">10</text>
</g>
<defs><filter id="fc" filterUnits="userSpaceOnUse" x="0" y="785" width="858" height="715" color-interpolation-filters="sRGB"><feGaussianBlur in="SourceGraphic" stdDeviation="1.0" result="b"/><feComposite in="SourceGraphic" in2="b" operator="arithmetic" k1="0" k2="0.6" k3="0.400" k4="0"/></filter></defs>
<g class="p" filter="url(#fc)">
<rect x="170.00" y="818.50" width="551.70" height="514.00" fill="#f7fbff"/>
<rect x="170.00" y="818.50" width="45.98" height="42.83" fill="#08306b"/>
<rect x="215.97" y="861.33" width="45.98" height="42.83" fill="#08306b"/>
<rect x="261.95" y="904.17" width="45.98" height="42.83" fill="#08306b"/>
<rect x="307.93" y="947.00" width="45.98" height="42.83" fill="#08306b"/>
<rect x="353.90" y="989.83" width="45.98" height="42.83" fill="#08306b"/>
<rect x="399.88" y="1032.67" width="45.98" height="42.83" fill="#08306b"/>
<rect x="445.85" y="1075.50" width="45.98" height="42.83" fill="#08306b"/>
<rect x="307.93" y="1118.33" width="45.98" height="42.83" fill="#e3eef9"/>
<rect x="491.82" y="1118.33" width="45.98" height="42.83" fill="#084a92"/>
<rect x="537.80" y="1161.17" width="45.98" height="42.83" fill="#08306b"/>
<rect x="583.78" y="1204.00" width="45.98" height="42.83" fill="#08306b"/>
<rect x="629.75" y="1246.83" width="45.98" height="42.83" fill="#08306b"/>
<rect x="675.73" y="1289.67" width="45.98" height="42.83" fill="#08306b"/>
<text transform="translate(192.53 844.97) scale(0.9808 1)" font-size="15.76" text-anchor="middle" fill="#ffffff" stroke="#ffffff" stroke-width="0.3" letter-spacing="-0.9">10</text>
<text transform="translate(238.96 844.97) scale(0.9808 1)" font-size="15.76" text-anchor="middle" fill="#262626" stroke="#262626" stroke-width="0.3">0</text>
<text transform="translate(284.94 844.97) scale(0.9808 1)" font-size="15.76" text-anchor="middle" fill="#262626" stroke="#262626" stroke-width="0.3">0</text>
<text transform="translate(330.91 844.97) scale(0.9808 1)" font-size="15.76" text-anchor="middle" fill="#262626" stroke="#262626" stroke-width="0.3">0</text>
<text transform="translate(376.89 844.97) scale(0.9808 1)" font-size="15.76" text-anchor="middle" fill="#262626" stroke="#262626" stroke-width="0.3">0</text>
<text transform="translate(422.86 844.97) scale(0.9808 1)" font-size="15.76" text-anchor="middle" fill="#262626" stroke="#262626" stroke-width="0.3">0</text>
<text transform="translate(468.84 844.97) scale(0.9808 1)" font-size="15.76" text-anchor="middle" fill="#262626" stroke="#262626" stroke-width="0.3">0</text>
<text transform="translate(514.81 844.97) scale(0.9808 1)" font-size="15.76" text-anchor="middle" fill="#262626" stroke="#262626" stroke-width="0.3">0</text>
<text transform="translate(560.79 844.97) scale(0.9808 1)" font-size="15.76" text-anchor="middle" fill="#262626" stroke="#262626" stroke-width="0.3">0</text>
<text transform="translate(606.76 844.97) scale(0.9808 1)" font-size="15.76" text-anchor="middle" fill="#262626" stroke="#262626" stroke-width="0.3">0</text>
<text transform="translate(652.74 844.97) scale(0.9808 1)" font-size="15.76" text-anchor="middle" fill="#262626" stroke="#262626" stroke-width="0.3">0</text>
<text transform="translate(698.71 844.97) scale(0.9808 1)" font-size="15.76" text-anchor="middle" fill="#262626" stroke="#262626" stroke-width="0.3">0</text>
<text transform="translate(192.99 887.80) scale(0.9808 1)" font-size="15.76" text-anchor="middle" fill="#262626" stroke="#262626" stroke-width="0.3">0</text>
<text transform="translate(238.50 887.80) scale(0.9808 1)" font-size="15.76" text-anchor="middle" fill="#ffffff" stroke="#ffffff" stroke-width="0.3" letter-spacing="-0.9">10</text>
<text transform="translate(284.94 887.80) scale(0.9808 1)" font-size="15.76" text-anchor="middle" fill="#262626" stroke="#262626" stroke-width="0.3">0</text>
<text transform="translate(330.91 887.80) scale(0.9808 1)" font-size="15.76" text-anchor="middle" fill="#262626" stroke="#262626" stroke-width="0.3">0</text>
<text transform="translate(376.89 887.80) scale(0.9808 1)" font-size="15.76" text-anchor="middle" fill="#262626" stroke="#262626" stroke-width="0.3">0</text>
<text transform="translate(422.86 887.80) scale(0.9808 1)" font-size="15.76" text-anchor="middle" fill="#262626" stroke="#262626" stroke-width="0.3">0</text>
<text transform="translate(468.84 887.80) scale(0.9808 1)" font-size="15.76" text-anchor="middle" fill="#262626" stroke="#262626" stroke-width="0.3">0</text>
<text transform="translate(514.81 887.80) scale(0.9808 1)" font-size="15.76" text-anchor="middle" fill="#262626" stroke="#262626" stroke-width="0.3">0</text>
<text transform="translate(560.79 887.80) scale(0.9808 1)" font-size="15.76" text-anchor="middle" fill="#262626" stroke="#262626" stroke-width="0.3">0</text>
<text transform="translate(606.76 887.80) scale(0.9808 1)" font-size="15.76" text-anchor="middle" fill="#262626" stroke="#262626" stroke-width="0.3">0</text>
<text transform="translate(652.74 887.80) scale(0.9808 1)" font-size="15.76" text-anchor="middle" fill="#262626" stroke="#262626" stroke-width="0.3">0</text>
<text transform="translate(698.71 887.80) scale(0.9808 1)" font-size="15.76" text-anchor="middle" fill="#262626" stroke="#262626" stroke-width="0.3">0</text>
<text transform="translate(192.99 930.63) scale(0.9808 1)" font-size="15.76" text-anchor="middle" fill="#262626" stroke="#262626" stroke-width="0.3">0</text>
<text transform="translate(238.96 930.63) scale(0.9808 1)" font-size="15.76" text-anchor="middle" fill="#262626" stroke="#262626" stroke-width="0.3">0</text>
<text transform="translate(284.48 930.63) scale(0.9808 1)" font-size="15.76" text-anchor="middle" fill="#ffffff" stroke="#ffffff" stroke-width="0.3" letter-spacing="-0.9">10</text>
<text transform="translate(330.91 930.63) scale(0.9808 1)" font-size="15.76" text-anchor="middle" fill="#262626" stroke="#262626" stroke-width="0.3">0</text>
<text transform="translate(376.89 930.63) scale(0.9808 1)" font-size="15.76" text-anchor="middle" fill="#262626" stroke="#262626" stroke-width="0.3">0</text>
<text transform="translate(422.86 930.63) scale(0.9808 1)" font-size="15.76" text-anchor="middle" fill="#262626" stroke="#262626" stroke-width="0.3">0</text>
<text transform="translate(468.84 930.63) scale(0.9808 1)" font-size="15.76" text-anchor="middle" fill="#262626" stroke="#262626" stroke-width="0.3">0</text>
<text transform="translate(514.81 930.63) scale(0.9808 1)" font-size="15.76" text-anchor="middle" fill="#262626" stroke="#262626" stroke-width="0.3">0</text>
<text transform="translate(560.79 930.63) scale(0.9808 1)" font-size="15.76" text-anchor="middle" fill="#262626" stroke="#262626" stroke-width="0.3">0</text>
<text transform="translate(606.76 930.63) scale(0.9808 1)" font-size="15.76" text-anchor="middle" fill="#262626" stroke="#262626" stroke-width="0.3">0</text>
<text transform="translate(652.74 930.63) scale(0.9808 1)" font-size="15.76" text-anchor="middle" fill="#262626" stroke="#262626" stroke-width="0.3">0</text>
<text transform="translate(698.71 930.63) scale(0.9808 1)" font-size="15.76" text-anchor="middle" fill="#262626" stroke="#262626" stroke-width="0.3">0</text>
<text transform="translate(192.99 973.47) scale(0.9808 1)" font-size="15.76" text-anchor="middle" fill="#262626" stroke="#262626" stroke-width="0.3">0</text>
<text transform="translate(238.96 973.47) scale(0.9808 1)" font-size="15.76" text-anchor="middle" fill="#262626" stroke="#262626" stroke-width="0.3">0</text>
<text transform="translate(284.94 973.47) scale(0.9808 1)" font-size="15.76" text-anchor="middle" fill="#262626" stroke="#262626" stroke-width="0.3">0</text>
<text transform="translate(330.45 973.47) scale(0.9808 1)" font-size="15.76" text-anchor="middle" fill="#ffffff" stroke="#ffffff" stroke-width="0.3" letter-spacing="-0.9">10</text>
<text transform="translate(376.89 973.47) scale(0.9808 1)" font-size="15.76" text-anchor="middle" fill="#262626" stroke="#262626" stroke-width="0.3">0</text>
<text transform="translate(422.86 973.47) scale(0.9808 1)" font-size="15.76" text-anchor="middle" fill="#262626" stroke="#262626" stroke-width="0.3">0</text>
<text transform="translate(468.84 973.47) scale(0.9808 1)" font-size="15.76" text-anchor="middle" fill="#262626" stroke="#262626" stroke-width="0.3">0</text>
<text transform="translate(514.81 973.47) scale(0.9808 1)" font-size="15.76" text-anchor="middle" fill="#262626" stroke="#262626" stroke-width="0.3">0</text>
<text transform="translate(560.79 973.47) scale(0.9808 1)" font-size="15.76" text-anchor="middle" fill="#262626" stroke="#262626" stroke-width="0.3">0</text>
<text transform="translate(606.76 973.47) scale(0.9808 1)" font-size="15.76" text-anchor="middle" fill="#262626" stroke="#262626" stroke-width="0.3">0</text>
<text transform="translate(652.74 973.47) scale(0.9808 1)" font-size="15.76" text-anchor="middle" fill="#262626" stroke="#262626" stroke-width="0.3">0</text>
<text transform="translate(698.71 973.47) scale(0.9808 1)" font-size="15.76" text-anchor="middle" fill="#262626" stroke="#262626" stroke-width="0.3">0</text>
<text transform="translate(192.99 1016.30) scale(0.9808 1)" font-size="15.76" text-anchor="middle" fill="#262626" stroke="#262626" stroke-width="0.3">0</text>
<text transform="translate(238.96 1016.30) scale(0.9808 1)" font-size="15.76" text-anchor="middle" fill="#262626" stroke="#262626" stroke-width="0.3">0</text>
<text transform="translate(284.94 1016.30) scale(0.9808 1)" font-size="15.76" text-anchor="middle" fill="#262626" stroke="#262626" stroke-width="0.3">0</text>
<text transform="translate(330.91 1016.30) scale(0.9808 1)" font-size="15.76" text-anchor="middle" fill="#262626" stroke="#262626" stroke-width="0.3">0</text>
<text transform="translate(376.43 1016.30) scale(0.9808 1)" font-size="15.76" text-anchor="middle" fill="#ffffff" stroke="#ffffff" stroke-width="0.3" letter-spacing="-0.9">10</text>
<text transform="translate(422.86 1016.30) scale(0.9808 1)" font-size="15.76" text-anchor="middle" fill="#262626" stroke="#262626" stroke-width="0.3">0</text>
<text transform="translate(468.84 1016.30) scale(0.9808 1)" font-size="15.76" text-anchor="middle" fill="#262626" stroke="#262626" stroke-width="0.3">0</text>
<text transform="translate(514.81 1016.30) scale(0.9808 1)" font-size="15.76" text-anchor="middle" fill="#262626" stroke="#262626" stroke-width="0.3">0</text>
<text transform="translate(560.79 1016.30) scale(0.9808 1)" font-size="15.76" text-anchor="middle" fill="#262626" stroke="#262626" stroke-width="0.3">0</text>
<text transform="translate(606.76 1016.30) scale(0.9808 1)" font-size="15.76" text-anchor="middle" fill="#262626" stroke="#262626" stroke-width="0.3">0</text>
<text transform="translate(652.74 1016.30) scale(0.9808 1)" font-size="15.76" text-anchor="middle" fill="#262626" stroke="#262626" stroke-width="0.3">0</text>
<text transform="translate(698.71 1016.30) scale(0.9808 1)" font-size="15.76" text-anchor="middle" fill="#262626" stroke="#262626" stroke-width="0.3">0</text>
<text transform="translate(192.99 1059.13) scale(0.9808 1)" font-size="15.76" text-anchor="middle" fill="#262626" stroke="#262626" stroke-width="0.3">0</text>
<text transform="translate(238.96 1059.13) scale(0.9808 1)" font-size="15.76" text-anchor="middle" fill="#262626" stroke="#262626" stroke-width="0.3">0</text>
<text transform="translate(284.94 1059.13) scale(0.9808 1)" font-size="15.76" text-anchor="middle" fill="#262626" stroke="#262626" stroke-width="0.3">0</text>
<text transform="translate(330.91 1059.13) scale(0.9808 1)" font-size="15.76" text-anchor="middle" fill="#262626" stroke="#262626" stroke-width="0.3">0</text>
<text transform="translate(376.89 1059.13) scale(0.9808 1)" font-size="15.76" text-anchor="middle" fill="#262626" stroke="#262626" stroke-width="0.3">0</text>
<text transform="translate(422.40 1059.13) scale(0.9808 1)" font-size="15.76" text-anchor="middle" fill="#ffffff" stroke="#ffffff" stroke-width="0.3" letter-spacing="-0.9">10</text>
<text transform="translate(468.84 1059.13) scale(0.9808 1)" font-size="15.76" text-anchor="middle" fill="#262626" stroke="#262626" stroke-width="0.3">0</text>
<text transform="translate(514.81 1059.13) scale(0.9808 1)" font-size="15.76" text-anchor="middle" fill="#262626" stroke="#262626" stroke-width="0.3">0</text>
<text transform="translate(560.79 1059.13) scale(0.9808 1)" font-size="15.76" text-anchor="middle" fill="#262626" stroke="#262626" stroke-width="0.3">0</text>
<text transform="translate(606.76 1059.13) scale(0.9808 1)" font-size="15.76" text-anchor="middle" fill="#262626" stroke="#262626" stroke-width="0.3">0</text>
<text transform="translate(652.74 1059.13) scale(0.9808 1)" font-size="15.76" text-anchor="middle" fill="#262626" stroke="#262626" stroke-width="0.3">0</text>
<text transform="translate(698.71 1059.13) scale(0.9808 1)" font-size="15.76" text-anchor="middle" fill="#262626" stroke="#262626" stroke-width="0.3">0</text>
<text transform="translate(192.99 1101.97) scale(0.9808 1)" font-size="15.76" text-anchor="middle" fill="#262626" stroke="#262626" stroke-width="0.3">0</text>
<text transform="translate(238.96 1101.97) scale(0.9808 1)" font-size="15.76" text-anchor="middle" fill="#262626" stroke="#262626" stroke-width="0.3">0</text>
<text transform="translate(284.94 1101.97) scale(0.9808 1)" font-size="15.76" text-anchor="middle" fill="#262626" stroke="#262626" stroke-width="0.3">0</text>
<text transform="translate(330.91 1101.97) scale(0.9808 1)" font-size="15.76" text-anchor="middle" fill="#262626" stroke="#262626" stroke-width="0.3">0</text>
<text transform="translate(376.89 1101.97) scale(0.9808 1)" font-size="15.76" text-anchor="middle" fill="#262626" stroke="#262626" stroke-width="0.3">0</text>
<text transform="translate(422.86 1101.97) scale(0.9808 1)" font-size="15.76" text-anchor="middle" fill="#262626" stroke="#262626" stroke-width="0.3">0</text>
<text transform="translate(468.38 1101.97) scale(0.9808 1)" font-size="15.76" text-anchor="middle" fill="#ffffff" stroke="#ffffff" stroke-width="0.3" letter-spacing="-0.9">10</text>
<text transform="translate(514.81 1101.97) scale(0.9808 1)" font-size="15.76" text-anchor="middle" fill="#262626" stroke="#262626" stroke-width="0.3">0</text>
<text transform="translate(560.79 1101.97) scale(0.9808 1)" font-size="15.76" text-anchor="middle" fill="#262626" stroke="#262626" stroke-width="0.3">0</text>
<text transform="translate(606.76 1101.97) scale(0.9808 1)" font-size="15.76" text-anchor="middle" fill="#262626" stroke="#262626" stroke-width="0.3">0</text>
<text transform="translate(652.74 1101.97) scale(0.9808 1)" font-size="15.76" text-anchor="middle" fill="#262626" stroke="#262626" stroke-width="0.3">0</text>
<text transform="translate(698.71 1101.97) scale(0.9808 1)" font-size="15.76" text-anchor="middle" fill="#262626" stroke="#262626" stroke-width="0.3">0</text>
<text transform="translate(192.99 1144.80) scale(0.9808 1)" font-size="15.76" text-anchor="middle" fill="#262626" stroke="#262626" stroke-width="0.3">0</text>
<text transform="translate(238.96 1144.80) scale(0.9808 1)" font-size="15.76" text-anchor="middle" fill="#262626" stroke="#262626" stroke-width="0.3">0</text>
<text transform="translate(284.94 1144.80) scale(0.9808 1)" font-size="15.76" text-anchor="middle" fill="#262626" stroke="#262626" stroke-width="0.3">0</text>
<text transform="translate(330.91 1144.80) scale(0.9808 1)" font-size="15.76" text-anchor="middle" fill="#262626" stroke="#262626" stroke-width="0.3">1</text>
<text transform="translate(376.89 1144.80) scale(0.9808 1)" font-size="15.76" text-anchor="middle" fill="#262626" stroke="#262626" stroke-width="0.3">0</text>
<text transform="translate(422.86 1144.80) scale(0.9808 1)" font-size="15.76" text-anchor="middle" fill="#262626" stroke="#262626" stroke-width="0.3">0</text>
<text transform="translate(468.84 1144.80) scale(0.9808 1)" font-size="15.76" text-anchor="middle" fill="#262626" stroke="#262626" stroke-width="0.3">0</text>
<text transform="translate(514.81 1144.80) scale(0.9808 1)" font-size="15.76" text-anchor="middle" fill="#ffffff" stroke="#ffffff" stroke-width="0.3">9</text>
<text transform="translate(560.79 1144.80) scale(0.9808 1)" font-size="15.76" text-anchor="middle" fill="#262626" stroke="#262626" stroke-width="0.3">0</text>
<text transform="translate(606.76 1144.80) scale(0.9808 1)" font-size="15.76" text-anchor="middle" fill="#262626" stroke="#262626" stroke-width="0.3">0</text>
<text transform="translate(652.74 1144.80) scale(0.9808 1)" font-size="15.76" text-anchor="middle" fill="#262626" stroke="#262626" stroke-width="0.3">0</text>
<text transform="translate(698.71 1144.80) scale(0.9808 1)" font-size="15.76" text-anchor="middle" fill="#262626" stroke="#262626" stroke-width="0.3">0</text>
<text transform="translate(192.99 1187.63) scale(0.9808 1)" font-size="15.76" text-anchor="middle" fill="#262626" stroke="#262626" stroke-width="0.3">0</text>
<text transform="translate(238.96 1187.63) scale(0.9808 1)" font-size="15.76" text-anchor="middle" fill="#262626" stroke="#262626" stroke-width="0.3">0</text>
<text transform="translate(284.94 1187.63) scale(0.9808 1)" font-size="15.76" text-anchor="middle" fill="#262626" stroke="#262626" stroke-width="0.3">0</text>
<text transform="translate(330.91 1187.63) scale(0.9808 1)" font-size="15.76" text-anchor="middle" fill="#262626" stroke="#262626" stroke-width="0.3">0</text>
<text transform="translate(376.89 1187.63) scale(0.9808 1)" font-size="15.76" text-anchor="middle" fill="#262626" stroke="#262626" stroke-width="0.3">0</text>
<text transform="translate(422.86 1187.63) scale(0.9808 1)" font-size="15.76" text-anchor="middle" fill="#262626" stroke="#262626" stroke-width="0.3">0</text>
<text transform="translate(468.84 1187.63) scale(0.9808 1)" font-size="15.76" text-anchor="middle" fill="#262626" stroke="#262626" stroke-width="0.3">0</text>
<text transform="translate(514.81 1187.63) scale(0.9808 1)" font-size="15.76" text-anchor="middle" fill="#262626" stroke="#262626" stroke-width="0.3">0</text>
<text transform="translate(560.33 1187.63) scale(0.9808 1)" font-size="15.76" text-anchor="middle" fill="#ffffff" stroke="#ffffff" stroke-width="0.3" letter-spacing="-0.9">10</text>
<text transform="translate(606.76 1187.63) scale(0.9808 1)" font-size="15.76" text-anchor="middle" fill="#262626" stroke="#262626" stroke-width="0.3">0</text>
<text transform="translate(652.74 1187.63) scale(0.9808 1)" font-size="15.76" text-anchor="middle" fill="#262626" stroke="#262626" stroke-width="0.3">0</text>
<text transform="translate(698.71 1187.63) scale(0.9808 1)" font-size="15.76" text-anchor="middle" fill="#262626" stroke="#262626" stroke-width="0.3">0</text>
<text transform="translate(192.99 1230.47) scale(0.9808 1)" font-size="15.76" text-anchor="middle" fill="#262626" stroke="#262626" stroke-width="0.3">0</text>
<text transform="translate(238.96 1230.47) scale(0.9808 1)" font-size="15.76" text-anchor="middle" fill="#262626" stroke="#262626" stroke-width="0.3">0</text>
<text transform="translate(284.94 1230.47) scale(0.9808 1)" font-size="15.76" text-anchor="middle" fill="#262626" stroke="#262626" stroke-width="0.3">0</text>
<text transform="translate(330.91 1230.47) scale(0.9808 1)" font-size="15.76" text-anchor="middle" fill="#262626" stroke="#262626" stroke-width="0.3">0</text>
<text transform="translate(376.89 1230.47) scale(0.9808 1)" font-size="15.76" text-anchor="middle" fill="#262626" stroke="#262626" stroke-width="0.3">0</text>
<text transform="translate(422.86 1230.47) scale(0.9808 1)" font-size="15.76" text-anchor="middle" fill="#262626" stroke="#262626" stroke-width="0.3">0</text>
<text transform="translate(468.84 1230.47) scale(0.9808 1)" font-size="15.76" text-anchor="middle" fill="#262626" stroke="#262626" stroke-width="0.3">0</text>
<text transform="translate(514.81 1230.47) scale(0.9808 1)" font-size="15.76" text-anchor="middle" fill="#262626" stroke="#262626" stroke-width="0.3">0</text>
<text transform="translate(560.79 1230.47) scale(0.9808 1)" font-size="15.76" text-anchor="middle" fill="#262626" stroke="#262626" stroke-width="0.3">0</text>
<text transform="translate(606.30 1230.47) scale(0.9808 1)" font-size="15.76" text-anchor="middle" fill="#ffffff" stroke="#ffffff" stroke-width="0.3" letter-spacing="-0.9">10</text>
<text transform="translate(652.74 1230.47) scale(0.9808 1)" font-size="15.76" text-anchor="middle" fill="#262626" stroke="#262626" stroke-width="0.3">0</text>
<text transform="translate(698.71 1230.47) scale(0.9808 1)" font-size="15.76" text-anchor="middle" fill="#262626" stroke="#262626" stroke-width="0.3">0</text>
<text transform="translate(192.99 1273.30) scale(0.9808 1)" font-size="15.76" text-anchor="middle" fill="#262626" stroke="#262626" stroke-width="0.3">0</text>
<text transform="translate(238.96 1273.30) scale(0.9808 1)" font-size="15.76" text-anchor="middle" fill="#262626" stroke="#262626" stroke-width="0.3">0</text>
<text transform="translate(284.94 1273.30) scale(0.9808 1)" font-size="15.76" text-anchor="middle" fill="#262626" stroke="#262626" stroke-width="0.3">0</text>
<text transform="translate(330.91 1273.30) scale(0.9808 1)" font-size="15.76" text-anchor="middle" fill="#262626" stroke="#262626" stroke-width="0.3">0</text>
<text transform="translate(376.89 1273.30) scale(0.9808 1)" font-size="15.76" text-anchor="middle" fill="#262626" stroke="#262626" stroke-width="0.3">0</text>
<text transform="translate(422.86 1273.30) scale(0.9808 1)" font-size="15.76" text-anchor="middle" fill="#262626" stroke="#262626" stroke-width="0.3">0</text>
<text transform="translate(468.84 1273.30) scale(0.9808 1)" font-size="15.76" text-anchor="middle" fill="#262626" stroke="#262626" stroke-width="0.3">0</text>
<text transform="translate(514.81 1273.30) scale(0.9808 1)" font-size="15.76" text-anchor="middle" fill="#262626" stroke="#262626" stroke-width="0.3">0</text>
<text transform="translate(560.79 1273.30) scale(0.9808 1)" font-size="15.76" text-anchor="middle" fill="#262626" stroke="#262626" stroke-width="0.3">0</text>
<text transform="translate(606.76 1273.30) scale(0.9808 1)" font-size="15.76" text-anchor="middle" fill="#262626" stroke="#262626" stroke-width="0.3">0</text>
<text transform="translate(652.28 1273.30) scale(0.9808 1)" font-size="15.76" text-anchor="middle" fill="#ffffff" stroke="#ffffff" stroke-width="0.3" letter-spacing="-0.9">10</text>
<text transform="translate(698.71 1273.30) scale(0.9808 1)" font-size="15.76" text-anchor="middle" fill="#262626" stroke="#262626" stroke-width="0.3">0</text>
<text transform="translate(192.99 1316.13) scale(0.9808 1)" font-size="15.76" text-anchor="middle" fill="#262626" stroke="#262626" stroke-width="0.3">0</text>
<text transform="translate(238.96 1316.13) scale(0.9808 1)" font-size="15.76" text-anchor="middle" fill="#262626" stroke="#262626" stroke-width="0.3">0</text>
<text transform="translate(284.94 1316.13) scale(0.9808 1)" font-size="15.76" text-anchor="middle" fill="#262626" stroke="#262626" stroke-width="0.3">0</text>
<text transform="translate(330.91 1316.13) scale(0.9808 1)" font-size="15.76" text-anchor="middle" fill="#262626" stroke="#262626" stroke-width="0.3">0</text>
<text transform="translate(376.89 1316.13) scale(0.9808 1)" font-size="15.76" text-anchor="middle" fill="#262626" stroke="#262626" stroke-width="0.3">0</text>
<text transform="translate(422.86 1316.13) scale(0.9808 1)" font-size="15.76" text-anchor="middle" fill="#262626" stroke="#262626" stroke-width="0.3">0</text>
<text transform="translate(468.84 1316.13) scale(0.9808 1)" font-size="15.76" text-anchor="middle" fill="#262626" stroke="#262626" stroke-width="0.3">0</text>
<text transform="translate(514.81 1316.13) scale(0.9808 1)" font-size="15.76" text-anchor="middle" fill="#262626" stroke="#262626" stroke-width="0.3">0</text>
<text transform="translate(560.79 1316.13) scale(0.9808 1)" font-size="15.76" text-anchor="middle" fill="#262626" stroke="#262626" stroke-width="0.3">0</text>
<text transform="translate(606.76 1316.13) scale(0.9808 1)" font-size="15.76" text-anchor="middle" fill="#262626" stroke="#262626" stroke-width="0.3">0</text>
<text transform="translate(652.74 1316.13) scale(0.9808 1)" font-size="15.76" text-anchor="middle" fill="#262626" stroke="#262626" stroke-width="0.3">0</text>
<text transform="translate(698.25 1316.13) scale(0.9808 1)" font-size="15.76" text-anchor="middle" fill="#ffffff" stroke="#ffffff" stroke-width="0.3" letter-spacing="-0.9">10</text>
<rect x="164.50" y="839.17" width="5.50" height="1.50" fill="#1a1a1a"/>
<text transform="translate(158.50 844.14) scale(1.0408 1)" font-size="14.85" text-anchor="end" fill="#1a1a1a" stroke="#1a1a1a" stroke-width="0.3">FBMC_QAM16</text>
<rect x="164.50" y="882.00" width="5.50" height="1.50" fill="#1a1a1a"/>
<text transform="translate(158.50 886.97) scale(1.0408 1)" font-size="14.85" text-anchor="end" fill="#1a1a1a" stroke="#1a1a1a" stroke-width="0.3">FBMC_QAM64</text>
<rect x="164.50" y="924.83" width="5.50" height="1.50" fill="#1a1a1a"/>
<text transform="translate(158.50 929.80) scale(1.0408 1)" font-size="14.85" text-anchor="end" fill="#1a1a1a" stroke="#1a1a1a" stroke-width="0.3">FOFDM_QAM16</text>
<rect x="164.50" y="967.67" width="5.50" height="1.50" fill="#1a1a1a"/>
<text transform="translate(158.50 972.64) scale(1.0408 1)" font-size="14.85" text-anchor="end" fill="#1a1a1a" stroke="#1a1a1a" stroke-width="0.3">FOFDM_QAM64</text>
<rect x="164.50" y="1010.50" width="5.50" height="1.50" fill="#1a1a1a"/>
<text transform="translate(158.50 1015.47) scale(1.0408 1)" font-size="14.85" text-anchor="end" fill="#1a1a1a" stroke="#1a1a1a" stroke-width="0.3">NOISE_QAM164</text>
<rect x="164.50" y="1053.33" width="5.50" height="1.50" fill="#1a1a1a"/>
<text transform="translate(158.50 1058.30) scale(1.0408 1)" font-size="14.85" text-anchor="end" fill="#1a1a1a" stroke="#1a1a1a" stroke-width="0.3">NOISE_QAM64</text>
<rect x="164.50" y="1096.17" width="5.50" height="1.50" fill="#1a1a1a"/>
<text transform="translate(158.50 1101.14) scale(1.0408 1)" font-size="14.85" text-anchor="end" fill="#1a1a1a" stroke="#1a1a1a" stroke-width="0.3">OFDM_QAM16</text>
<rect x="164.50" y="1139.00" width="5.50" height="1.50" fill="#1a1a1a"/>
<text transform="translate(158.50 1143.97) scale(1.0408 1)" font-size="14.85" text-anchor="end" fill="#1a1a1a" stroke="#1a1a1a" stroke-width="0.3">OFDM_QAM64</text>
<rect x="164.50" y="1181.83" width="5.50" height="1.50" fill="#1a1a1a"/>
<text transform="translate(158.50 1186.80) scale(1.0408 1)" font-size="14.85" text-anchor="end" fill="#1a1a1a" stroke="#1a1a1a" stroke-width="0.3">UFMC_QAM16</text>
<rect x="164.50" y="1224.67" width="5.50" height="1.50" fill="#1a1a1a"/>
<text transform="translate(158.50 1229.64) scale(1.0408 1)" font-size="14.85" text-anchor="end" fill="#1a1a1a" stroke="#1a1a1a" stroke-width="0.3">UFMC_QAM64</text>
<rect x="164.50" y="1267.50" width="5.50" height="1.50" fill="#1a1a1a"/>
<text transform="translate(158.50 1272.47) scale(1.0408 1)" font-size="14.85" text-anchor="end" fill="#1a1a1a" stroke="#1a1a1a" stroke-width="0.3">WOLA_QAM16</text>
<rect x="164.50" y="1310.33" width="5.50" height="1.50" fill="#1a1a1a"/>
<text transform="translate(158.50 1315.30) scale(1.0408 1)" font-size="14.85" text-anchor="end" fill="#1a1a1a" stroke="#1a1a1a" stroke-width="0.3">WOLA_QAM64</text>
<rect x="192.84" y="1333.50" width="1.50" height="5.50" fill="#1a1a1a"/>
<text transform="translate(197.12 1348.00) scale(1.0200 1) rotate(-90) scale(1.0204 1)" font-size="14.85" text-anchor="end" fill="#1a1a1a" stroke="#1a1a1a" stroke-width="0.3">FBMC_QAM16</text>
<rect x="238.81" y="1333.50" width="1.50" height="5.50" fill="#1a1a1a"/>
<text transform="translate(243.09 1348.00) scale(1.0200 1) rotate(-90) scale(1.0204 1)" font-size="14.85" text-anchor="end" fill="#1a1a1a" stroke="#1a1a1a" stroke-width="0.3">FBMC_QAM64</text>
<rect x="284.79" y="1333.50" width="1.50" height="5.50" fill="#1a1a1a"/>
<text transform="translate(289.07 1348.00) scale(1.0200 1) rotate(-90) scale(1.0204 1)" font-size="14.85" text-anchor="end" fill="#1a1a1a" stroke="#1a1a1a" stroke-width="0.3">FOFDM_QAM16</text>
<rect x="330.76" y="1333.50" width="1.50" height="5.50" fill="#1a1a1a"/>
<text transform="translate(335.04 1348.00) scale(1.0200 1) rotate(-90) scale(1.0204 1)" font-size="14.85" text-anchor="end" fill="#1a1a1a" stroke="#1a1a1a" stroke-width="0.3">FOFDM_QAM64</text>
<rect x="376.74" y="1333.50" width="1.50" height="5.50" fill="#1a1a1a"/>
<text transform="translate(381.02 1348.00) scale(1.0200 1) rotate(-90) scale(1.0204 1)" font-size="14.85" text-anchor="end" fill="#1a1a1a" stroke="#1a1a1a" stroke-width="0.3">NOISE_QAM164</text>
<rect x="422.71" y="1333.50" width="1.50" height="5.50" fill="#1a1a1a"/>
<text transform="translate(426.99 1348.00) scale(1.0200 1) rotate(-90) scale(1.0204 1)" font-size="14.85" text-anchor="end" fill="#1a1a1a" stroke="#1a1a1a" stroke-width="0.3">NOISE_QAM64</text>
<rect x="468.69" y="1333.50" width="1.50" height="5.50" fill="#1a1a1a"/>
<text transform="translate(472.97 1348.00) scale(1.0200 1) rotate(-90) scale(1.0204 1)" font-size="14.85" text-anchor="end" fill="#1a1a1a" stroke="#1a1a1a" stroke-width="0.3">OFDM_QAM16</text>
<rect x="514.66" y="1333.50" width="1.50" height="5.50" fill="#1a1a1a"/>
<text transform="translate(518.94 1348.00) scale(1.0200 1) rotate(-90) scale(1.0204 1)" font-size="14.85" text-anchor="end" fill="#1a1a1a" stroke="#1a1a1a" stroke-width="0.3">OFDM_QAM64</text>
<rect x="560.64" y="1333.50" width="1.50" height="5.50" fill="#1a1a1a"/>
<text transform="translate(564.92 1348.00) scale(1.0200 1) rotate(-90) scale(1.0204 1)" font-size="14.85" text-anchor="end" fill="#1a1a1a" stroke="#1a1a1a" stroke-width="0.3">UFMC_QAM16</text>
<rect x="606.61" y="1333.50" width="1.50" height="5.50" fill="#1a1a1a"/>
<text transform="translate(610.89 1348.00) scale(1.0200 1) rotate(-90) scale(1.0204 1)" font-size="14.85" text-anchor="end" fill="#1a1a1a" stroke="#1a1a1a" stroke-width="0.3">UFMC_QAM64</text>
<rect x="652.59" y="1333.50" width="1.50" height="5.50" fill="#1a1a1a"/>
<text transform="translate(656.87 1348.00) scale(1.0200 1) rotate(-90) scale(1.0204 1)" font-size="14.85" text-anchor="end" fill="#1a1a1a" stroke="#1a1a1a" stroke-width="0.3">WOLA_QAM16</text>
<rect x="698.56" y="1333.50" width="1.50" height="5.50" fill="#1a1a1a"/>
<text transform="translate(702.84 1348.00) scale(1.0200 1) rotate(-90) scale(1.0204 1)" font-size="14.85" text-anchor="end" fill="#1a1a1a" stroke="#1a1a1a" stroke-width="0.3">WOLA_QAM64</text>
<text transform="translate(445.90 1482.90) scale(1.0408 1)" font-size="14.85" text-anchor="middle" fill="#1a1a1a" stroke="#1a1a1a" stroke-width="0.3">Predicted labels</text>
<text transform="translate(28.00 1076.00) scale(1.0200 1) rotate(-90) scale(1.0204 1)" font-size="14.85" text-anchor="middle" fill="#1a1a1a" stroke="#1a1a1a" stroke-width="0.3">True labels</text>
<text transform="translate(445.00 809.00) scale(0.9650 1)" font-size="19.20" text-anchor="middle" fill="#1a1a1a" stroke="#1a1a1a" stroke-width="0.3">Confusion Matrix for SNR 0</text>
<defs><linearGradient id="gc" x1="0" y1="0" x2="0" y2="1"><stop offset="0.0000" stop-color="#08306b"/><stop offset="0.1250" stop-color="#08519c"/><stop offset="0.2500" stop-color="#2171b5"/><stop offset="0.3750" stop-color="#4292c6"/><stop offset="0.5000" stop-color="#6baed6"/><stop offset="0.6250" stop-color="#9ecae1"/><stop offset="0.7500" stop-color="#c6dbef"/><stop offset="0.8750" stop-color="#deebf7"/><stop offset="1.0000" stop-color="#f7fbff"/></linearGradient></defs>
<rect x="756.10" y="818.50" width="25.40" height="514.00" fill="url(#gc)"/>
<rect x="782.50" y="1332.25" width="5.50" height="1.50" fill="#1a1a1a"/>
<text transform="translate(793.00 1339.22) scale(1.0408 1)" font-size="14.31" text-anchor="start" fill="#1a1a1a" stroke="#1a1a1a" stroke-width="0.3">0</text>
<rect x="782.50" y="1229.45" width="5.50" height="1.50" fill="#1a1a1a"/>
<text transform="translate(793.00 1236.42) scale(1.0408 1)" font-size="14.31" text-anchor="start" fill="#1a1a1a" stroke="#1a1a1a" stroke-width="0.3">2</text>
<rect x="782.50" y="1126.65" width="5.50" height="1.50" fill="#1a1a1a"/>
<text transform="translate(793.00 1133.62) scale(1.0408 1)" font-size="14.31" text-anchor="start" fill="#1a1a1a" stroke="#1a1a1a" stroke-width="0.3">4</text>
<rect x="782.50" y="1023.85" width="5.50" height="1.50" fill="#1a1a1a"/>
<text transform="translate(793.00 1030.82) scale(1.0408 1)" font-size="14.31" text-anchor="start" fill="#1a1a1a" stroke="#1a1a1a" stroke-width="0.3">6</text>
<rect x="782.50" y="921.05" width="5.50" height="1.50" fill="#1a1a1a"/>
<text transform="translate(793.00 928.02) scale(1.0408 1)" font-size="14.31" text-anchor="start" fill="#1a1a1a" stroke="#1a1a1a" stroke-width="0.3">8</text>
<rect x="782.50" y="818.25" width="5.50" height="1.50" fill="#1a1a1a"/>
<text transform="translate(793.00 825.22) scale(1.0408 1)" font-size="14.31" text-anchor="start" fill="#1a1a1a" stroke="#1a1a1a" stroke-width="0.3" letter-spacing="-0.9">10</text>
</g>
<defs><filter id="fd" filterUnits="userSpaceOnUse" x="858" y="785" width="858" height="715" color-interpolation-filters="sRGB"><feGaussianBlur in="SourceGraphic" stdDeviation="1.0" result="b"/><feComposite in="SourceGraphic" in2="b" operator="arithmetic" k1="0" k2="0.6" k3="0.400" k4="0"/></filter></defs>
<g class="p" filter="url(#fd)">
<rect x="1044.30" y="815.90" width="576.60" height="475.60" fill="#f7fbff"/>
<rect x="1044.30" y="815.90" width="48.05" height="39.63" fill="#1764ab"/>
<rect x="1092.35" y="815.90" width="48.05" height="39.63" fill="#e3eef9"/>
<rect x="1140.40" y="815.90" width="48.05" height="39.63" fill="#e3eef9"/>
<rect x="1092.35" y="855.53" width="48.05" height="39.63" fill="#084a92"/>
<rect x="1476.75" y="855.53" width="48.05" height="39.63" fill="#e3eef9"/>
<rect x="1140.40" y="895.17" width="48.05" height="39.63" fill="#08306b"/>
<rect x="1188.45" y="934.80" width="48.05" height="39.63" fill="#08306b"/>
<rect x="1236.50" y="974.43" width="48.05" height="39.63" fill="#08306b"/>
<rect x="1284.55" y="1014.07" width="48.05" height="39.63" fill="#08306b"/>
<rect x="1332.60" y="1053.70" width="48.05" height="39.63" fill="#08306b"/>
<rect x="1380.65" y="1093.33" width="48.05" height="39.63" fill="#08306b"/>
<rect x="1428.70" y="1132.97" width="48.05" height="39.63" fill="#08306b"/>
<rect x="1476.75" y="1172.60" width="48.05" height="39.63" fill="#08306b"/>
<rect x="1524.80" y="1212.23" width="48.05" height="39.63" fill="#08306b"/>
<rect x="1572.85" y="1251.87" width="48.05" height="39.63" fill="#08306b"/>
<text transform="translate(1069.23 840.18) scale(1.1098 1)" font-size="14.43" text-anchor="middle" fill="#ffffff" stroke="#ffffff" stroke-width="0.3">8</text>
<text transform="translate(1117.28 840.18) scale(1.1098 1)" font-size="14.43" text-anchor="middle" fill="#262626" stroke="#262626" stroke-width="0.3">1</text>
<text transform="translate(1165.33 840.18) scale(1.1098 1)" font-size="14.43" text-anchor="middle" fill="#262626" stroke="#262626" stroke-width="0.3">1</text>
<text transform="translate(1213.38 840.18) scale(1.1098 1)" font-size="14.43" text-anchor="middle" fill="#262626" stroke="#262626" stroke-width="0.3">0</text>
<text transform="translate(1261.43 840.18) scale(1.1098 1)" font-size="14.43" text-anchor="middle" fill="#262626" stroke="#262626" stroke-width="0.3">0</text>
<text transform="translate(1309.48 840.18) scale(1.1098 1)" font-size="14.43" text-anchor="middle" fill="#262626" stroke="#262626" stroke-width="0.3">0</text>
<text transform="translate(1357.53 840.18) scale(1.1098 1)" font-size="14.43" text-anchor="middle" fill="#262626" stroke="#262626" stroke-width="0.3">0</text>
<text transform="translate(1405.58 840.18) scale(1.1098 1)" font-size="14.43" text-anchor="middle" fill="#262626" stroke="#262626" stroke-width="0.3">0</text>
<text transform="translate(1453.62 840.18) scale(1.1098 1)" font-size="14.43" text-anchor="middle" fill="#262626" stroke="#262626" stroke-width="0.3">0</text>
<text transform="translate(1501.68 840.18) scale(1.1098 1)" font-size="14.43" text-anchor="middle" fill="#262626" stroke="#262626" stroke-width="0.3">0</text>
<text transform="translate(1549.73 840.18) scale(1.1098 1)" font-size="14.43" text-anchor="middle" fill="#262626" stroke="#262626" stroke-width="0.3">0</text>
<text transform="translate(1597.78 840.18) scale(1.1098 1)" font-size="14.43" text-anchor="middle" fill="#262626" stroke="#262626" stroke-width="0.3">0</text>
<text transform="translate(1069.23 879.82) scale(1.1098 1)" font-size="14.43" text-anchor="middle" fill="#262626" stroke="#262626" stroke-width="0.3">0</text>
<text transform="translate(1117.28 879.82) scale(1.1098 1)" font-size="14.43" text-anchor="middle" fill="#ffffff" stroke="#ffffff" stroke-width="0.3">9</text>
<text transform="translate(1165.33 879.82) scale(1.1098 1)" font-size="14.43" text-anchor="middle" fill="#262626" stroke="#262626" stroke-width="0.3">0</text>
<text transform="translate(1213.38 879.82) scale(1.1098 1)" font-size="14.43" text-anchor="middle" fill="#262626" stroke="#262626" stroke-width="0.3">0</text>
<text transform="translate(1261.43 879.82) scale(1.1098 1)" font-size="14.43" text-anchor="middle" fill="#262626" stroke="#262626" stroke-width="0.3">0</text>
<text transform="translate(1309.48 879.82) scale(1.1098 1)" font-size="14.43" text-anchor="middle" fill="#262626" stroke="#262626" stroke-width="0.3">0</text>
<text transform="translate(1357.53 879.82) scale(1.1098 1)" font-size="14.43" text-anchor="middle" fill="#262626" stroke="#262626" stroke-width="0.3">0</text>
<text transform="translate(1405.58 879.82) scale(1.1098 1)" font-size="14.43" text-anchor="middle" fill="#262626" stroke="#262626" stroke-width="0.3">0</text>
<text transform="translate(1453.62 879.82) scale(1.1098 1)" font-size="14.43" text-anchor="middle" fill="#262626" stroke="#262626" stroke-width="0.3">0</text>
<text transform="translate(1501.68 879.82) scale(1.1098 1)" font-size="14.43" text-anchor="middle" fill="#262626" stroke="#262626" stroke-width="0.3">1</text>
<text transform="translate(1549.73 879.82) scale(1.1098 1)" font-size="14.43" text-anchor="middle" fill="#262626" stroke="#262626" stroke-width="0.3">0</text>
<text transform="translate(1597.78 879.82) scale(1.1098 1)" font-size="14.43" text-anchor="middle" fill="#262626" stroke="#262626" stroke-width="0.3">0</text>
<text transform="translate(1069.23 919.45) scale(1.1098 1)" font-size="14.43" text-anchor="middle" fill="#262626" stroke="#262626" stroke-width="0.3">0</text>
<text transform="translate(1117.28 919.45) scale(1.1098 1)" font-size="14.43" text-anchor="middle" fill="#262626" stroke="#262626" stroke-width="0.3">0</text>
<text transform="translate(1164.65 919.45) scale(1.1098 1)" font-size="14.43" text-anchor="middle" fill="#ffffff" stroke="#ffffff" stroke-width="0.3" letter-spacing="-1.2">10</text>
<text transform="translate(1213.38 919.45) scale(1.1098 1)" font-size="14.43" text-anchor="middle" fill="#262626" stroke="#262626" stroke-width="0.3">0</text>
<text transform="translate(1261.43 919.45) scale(1.1098 1)" font-size="14.43" text-anchor="middle" fill="#262626" stroke="#262626" stroke-width="0.3">0</text>
<text transform="translate(1309.48 919.45) scale(1.1098 1)" font-size="14.43" text-anchor="middle" fill="#262626" stroke="#262626" stroke-width="0.3">0</text>
<text transform="translate(1357.53 919.45) scale(1.1098 1)" font-size="14.43" text-anchor="middle" fill="#262626" stroke="#262626" stroke-width="0.3">0</text>
<text transform="translate(1405.58 919.45) scale(1.1098 1)" font-size="14.43" text-anchor="middle" fill="#262626" stroke="#262626" stroke-width="0.3">0</text>
<text transform="translate(1453.62 919.45) scale(1.1098 1)" font-size="14.43" text-anchor="middle" fill="#262626" stroke="#262626" stroke-width="0.3">0</text>
<text transform="translate(1501.68 919.45) scale(1.1098 1)" font-size="14.43" text-anchor="middle" fill="#262626" stroke="#262626" stroke-width="0.3">0</text>
<text transform="translate(1549.73 919.45) scale(1.1098 1)" font-size="14.43" text-anchor="middle" fill="#262626" stroke="#262626" stroke-width="0.3">0</text>
<text transform="translate(1597.78 919.45) scale(1.1098 1)" font-size="14.43" text-anchor="middle" fill="#262626" stroke="#262626" stroke-width="0.3">0</text>
<text transform="translate(1069.23 959.08) scale(1.1098 1)" font-size="14.43" text-anchor="middle" fill="#262626" stroke="#262626" stroke-width="0.3">0</text>
<text transform="translate(1117.28 959.08) scale(1.1098 1)" font-size="14.43" text-anchor="middle" fill="#262626" stroke="#262626" stroke-width="0.3">0</text>
<text transform="translate(1165.33 959.08) scale(1.1098 1)" font-size="14.43" text-anchor="middle" fill="#262626" stroke="#262626" stroke-width="0.3">0</text>
<text transform="translate(1212.70 959.08) scale(1.1098 1)" font-size="14.43" text-anchor="middle" fill="#ffffff" stroke="#ffffff" stroke-width="0.3" letter-spacing="-1.2">10</text>
<text transform="translate(1261.43 959.08) scale(1.1098 1)" font-size="14.43" text-anchor="middle" fill="#262626" stroke="#262626" stroke-width="0.3">0</text>
<text transform="translate(1309.48 959.08) scale(1.1098 1)" font-size="14.43" text-anchor="middle" fill="#262626" stroke="#262626" stroke-width="0.3">0</text>
<text transform="translate(1357.53 959.08) scale(1.1098 1)" font-size="14.43" text-anchor="middle" fill="#262626" stroke="#262626" stroke-width="0.3">0</text>
<text transform="translate(1405.58 959.08) scale(1.1098 1)" font-size="14.43" text-anchor="middle" fill="#262626" stroke="#262626" stroke-width="0.3">0</text>
<text transform="translate(1453.62 959.08) scale(1.1098 1)" font-size="14.43" text-anchor="middle" fill="#262626" stroke="#262626" stroke-width="0.3">0</text>
<text transform="translate(1501.68 959.08) scale(1.1098 1)" font-size="14.43" text-anchor="middle" fill="#262626" stroke="#262626" stroke-width="0.3">0</text>
<text transform="translate(1549.73 959.08) scale(1.1098 1)" font-size="14.43" text-anchor="middle" fill="#262626" stroke="#262626" stroke-width="0.3">0</text>
<text transform="translate(1597.78 959.08) scale(1.1098 1)" font-size="14.43" text-anchor="middle" fill="#262626" stroke="#262626" stroke-width="0.3">0</text>
<text transform="translate(1069.23 998.72) scale(1.1098 1)" font-size="14.43" text-anchor="middle" fill="#262626" stroke="#262626" stroke-width="0.3">0</text>
<text transform="translate(1117.28 998.72) scale(1.1098 1)" font-size="14.43" text-anchor="middle" fill="#262626" stroke="#262626" stroke-width="0.3">0</text>
<text transform="translate(1165.33 998.72) scale(1.1098 1)" font-size="14.43" text-anchor="middle" fill="#262626" stroke="#262626" stroke-width="0.3">0</text>
<text transform="translate(1213.38 998.72) scale(1.1098 1)" font-size="14.43" text-anchor="middle" fill="#262626" stroke="#262626" stroke-width="0.3">0</text>
<text transform="translate(1260.75 998.72) scale(1.1098 1)" font-size="14.43" text-anchor="middle" fill="#ffffff" stroke="#ffffff" stroke-width="0.3" letter-spacing="-1.2">10</text>
<text transform="translate(1309.48 998.72) scale(1.1098 1)" font-size="14.43" text-anchor="middle" fill="#262626" stroke="#262626" stroke-width="0.3">0</text>
<text transform="translate(1357.53 998.72) scale(1.1098 1)" font-size="14.43" text-anchor="middle" fill="#262626" stroke="#262626" stroke-width="0.3">0</text>
<text transform="translate(1405.58 998.72) scale(1.1098 1)" font-size="14.43" text-anchor="middle" fill="#262626" stroke="#262626" stroke-width="0.3">0</text>
<text transform="translate(1453.62 998.72) scale(1.1098 1)" font-size="14.43" text-anchor="middle" fill="#262626" stroke="#262626" stroke-width="0.3">0</text>
<text transform="translate(1501.68 998.72) scale(1.1098 1)" font-size="14.43" text-anchor="middle" fill="#262626" stroke="#262626" stroke-width="0.3">0</text>
<text transform="translate(1549.73 998.72) scale(1.1098 1)" font-size="14.43" text-anchor="middle" fill="#262626" stroke="#262626" stroke-width="0.3">0</text>
<text transform="translate(1597.78 998.72) scale(1.1098 1)" font-size="14.43" text-anchor="middle" fill="#262626" stroke="#262626" stroke-width="0.3">0</text>
<text transform="translate(1069.23 1038.35) scale(1.1098 1)" font-size="14.43" text-anchor="middle" fill="#262626" stroke="#262626" stroke-width="0.3">0</text>
<text transform="translate(1117.28 1038.35) scale(1.1098 1)" font-size="14.43" text-anchor="middle" fill="#262626" stroke="#262626" stroke-width="0.3">0</text>
<text transform="translate(1165.33 1038.35) scale(1.1098 1)" font-size="14.43" text-anchor="middle" fill="#262626" stroke="#262626" stroke-width="0.3">0</text>
<text transform="translate(1213.38 1038.35) scale(1.1098 1)" font-size="14.43" text-anchor="middle" fill="#262626" stroke="#262626" stroke-width="0.3">0</text>
<text transform="translate(1261.43 1038.35) scale(1.1098 1)" font-size="14.43" text-anchor="middle" fill="#262626" stroke="#262626" stroke-width="0.3">0</text>
<text transform="translate(1308.80 1038.35) scale(1.1098 1)" font-size="14.43" text-anchor="middle" fill="#ffffff" stroke="#ffffff" stroke-width="0.3" letter-spacing="-1.2">10</text>
<text transform="translate(1357.53 1038.35) scale(1.1098 1)" font-size="14.43" text-anchor="middle" fill="#262626" stroke="#262626" stroke-width="0.3">0</text>
<text transform="translate(1405.58 1038.35) scale(1.1098 1)" font-size="14.43" text-anchor="middle" fill="#262626" stroke="#262626" stroke-width="0.3">0</text>
<text transform="translate(1453.62 1038.35) scale(1.1098 1)" font-size="14.43" text-anchor="middle" fill="#262626" stroke="#262626" stroke-width="0.3">0</text>
<text transform="translate(1501.68 1038.35) scale(1.1098 1)" font-size="14.43" text-anchor="middle" fill="#262626" stroke="#262626" stroke-width="0.3">0</text>
<text transform="translate(1549.73 1038.35) scale(1.1098 1)" font-size="14.43" text-anchor="middle" fill="#262626" stroke="#262626" stroke-width="0.3">0</text>
<text transform="translate(1597.78 1038.35) scale(1.1098 1)" font-size="14.43" text-anchor="middle" fill="#262626" stroke="#262626" stroke-width="0.3">0</text>
<text transform="translate(1069.23 1077.98) scale(1.1098 1)" font-size="14.43" text-anchor="middle" fill="#262626" stroke="#262626" stroke-width="0.3">0</text>
<text transform="translate(1117.28 1077.98) scale(1.1098 1)" font-size="14.43" text-anchor="middle" fill="#262626" stroke="#262626" stroke-width="0.3">0</text>
<text transform="translate(1165.33 1077.98) scale(1.1098 1)" font-size="14.43" text-anchor="middle" fill="#262626" stroke="#262626" stroke-width="0.3">0</text>
<text transform="translate(1213.38 1077.98) scale(1.1098 1)" font-size="14.43" text-anchor="middle" fill="#262626" stroke="#262626" stroke-width="0.3">0</text>
<text transform="translate(1261.43 1077.98) scale(1.1098 1)" font-size="14.43" text-anchor="middle" fill="#262626" stroke="#262626" stroke-width="0.3">0</text>
<text transform="translate(1309.48 1077.98) scale(1.1098 1)" font-size="14.43" text-anchor="middle" fill="#262626" stroke="#262626" stroke-width="0.3">0</text>
<text transform="translate(1356.85 1077.98) scale(1.1098 1)" font-size="14.43" text-anchor="middle" fill="#ffffff" stroke="#ffffff" stroke-width="0.3" letter-spacing="-1.2">10</text>
<text transform="translate(1405.58 1077.98) scale(1.1098 1)" font-size="14.43" text-anchor="middle" fill="#262626" stroke="#262626" stroke-width="0.3">0</text>
<text transform="translate(1453.62 1077.98) scale(1.1098 1)" font-size="14.43" text-anchor="middle" fill="#262626" stroke="#262626" stroke-width="0.3">0</text>
<text transform="translate(1501.68 1077.98) scale(1.1098 1)" font-size="14.43" text-anchor="middle" fill="#262626" stroke="#262626" stroke-width="0.3">0</text>
<text transform="translate(1549.73 1077.98) scale(1.1098 1)" font-size="14.43" text-anchor="middle" fill="#262626" stroke="#262626" stroke-width="0.3">0</text>
<text transform="translate(1597.78 1077.98) scale(1.1098 1)" font-size="14.43" text-anchor="middle" fill="#262626" stroke="#262626" stroke-width="0.3">0</text>
<text transform="translate(1069.23 1117.62) scale(1.1098 1)" font-size="14.43" text-anchor="middle" fill="#262626" stroke="#262626" stroke-width="0.3">0</text>
<text transform="translate(1117.28 1117.62) scale(1.1098 1)" font-size="14.43" text-anchor="middle" fill="#262626" stroke="#262626" stroke-width="0.3">0</text>
<text transform="translate(1165.33 1117.62) scale(1.1098 1)" font-size="14.43" text-anchor="middle" fill="#262626" stroke="#262626" stroke-width="0.3">0</text>
<text transform="translate(1213.38 1117.62) scale(1.1098 1)" font-size="14.43" text-anchor="middle" fill="#262626" stroke="#262626" stroke-width="0.3">0</text>
<text transform="translate(1261.43 1117.62) scale(1.1098 1)" font-size="14.43" text-anchor="middle" fill="#262626" stroke="#262626" stroke-width="0.3">0</text>
<text transform="translate(1309.48 1117.62) scale(1.1098 1)" font-size="14.43" text-anchor="middle" fill="#262626" stroke="#262626" stroke-width="0.3">0</text>
<text transform="translate(1357.53 1117.62) scale(1.1098 1)" font-size="14.43" text-anchor="middle" fill="#262626" stroke="#262626" stroke-width="0.3">0</text>
<text transform="translate(1404.90 1117.62) scale(1.1098 1)" font-size="14.43" text-anchor="middle" fill="#ffffff" stroke="#ffffff" stroke-width="0.3" letter-spacing="-1.2">10</text>
<text transform="translate(1453.62 1117.62) scale(1.1098 1)" font-size="14.43" text-anchor="middle" fill="#262626" stroke="#262626" stroke-width="0.3">0</text>
<text transform="translate(1501.68 1117.62) scale(1.1098 1)" font-size="14.43" text-anchor="middle" fill="#262626" stroke="#262626" stroke-width="0.3">0</text>
<text transform="translate(1549.73 1117.62) scale(1.1098 1)" font-size="14.43" text-anchor="middle" fill="#262626" stroke="#262626" stroke-width="0.3">0</text>
<text transform="translate(1597.78 1117.62) scale(1.1098 1)" font-size="14.43" text-anchor="middle" fill="#262626" stroke="#262626" stroke-width="0.3">0</text>
<text transform="translate(1069.23 1157.25) scale(1.1098 1)" font-size="14.43" text-anchor="middle" fill="#262626" stroke="#262626" stroke-width="0.3">0</text>
<text transform="translate(1117.28 1157.25) scale(1.1098 1)" font-size="14.43" text-anchor="middle" fill="#262626" stroke="#262626" stroke-width="0.3">0</text>
<text transform="translate(1165.33 1157.25) scale(1.1098 1)" font-size="14.43" text-anchor="middle" fill="#262626" stroke="#262626" stroke-width="0.3">0</text>
<text transform="translate(1213.38 1157.25) scale(1.1098 1)" font-size="14.43" text-anchor="middle" fill="#262626" stroke="#262626" stroke-width="0.3">0</text>
<text transform="translate(1261.43 1157.25) scale(1.1098 1)" font-size="14.43" text-anchor="middle" fill="#262626" stroke="#262626" stroke-width="0.3">0</text>
<text transform="translate(1309.48 1157.25) scale(1.1098 1)" font-size="14.43" text-anchor="middle" fill="#262626" stroke="#262626" stroke-width="0.3">0</text>
<text transform="translate(1357.53 1157.25) scale(1.1098 1)" font-size="14.43" text-anchor="middle" fill="#262626" stroke="#262626" stroke-width="0.3">0</text>
<text transform="translate(1405.58 1157.25) scale(1.1098 1)" font-size="14.43" text-anchor="middle" fill="#262626" stroke="#262626" stroke-width="0.3">0</text>
<text transform="translate(1452.95 1157.25) scale(1.1098 1)" font-size="14.43" text-anchor="middle" fill="#ffffff" stroke="#ffffff" stroke-width="0.3" letter-spacing="-1.2">10</text>
<text transform="translate(1501.68 1157.25) scale(1.1098 1)" font-size="14.43" text-anchor="middle" fill="#262626" stroke="#262626" stroke-width="0.3">0</text>
<text transform="translate(1549.73 1157.25) scale(1.1098 1)" font-size="14.43" text-anchor="middle" fill="#262626" stroke="#262626" stroke-width="0.3">0</text>
<text transform="translate(1597.78 1157.25) scale(1.1098 1)" font-size="14.43" text-anchor="middle" fill="#262626" stroke="#262626" stroke-width="0.3">0</text>
<text transform="translate(1069.23 1196.88) scale(1.1098 1)" font-size="14.43" text-anchor="middle" fill="#262626" stroke="#262626" stroke-width="0.3">0</text>
<text transform="translate(1117.28 1196.88) scale(1.1098 1)" font-size="14.43" text-anchor="middle" fill="#262626" stroke="#262626" stroke-width="0.3">0</text>
<text transform="translate(1165.33 1196.88) scale(1.1098 1)" font-size="14.43" text-anchor="middle" fill="#262626" stroke="#262626" stroke-width="0.3">0</text>
<text transform="translate(1213.38 1196.88) scale(1.1098 1)" font-size="14.43" text-anchor="middle" fill="#262626" stroke="#262626" stroke-width="0.3">0</text>
<text transform="translate(1261.43 1196.88) scale(1.1098 1)" font-size="14.43" text-anchor="middle" fill="#262626" stroke="#262626" stroke-width="0.3">0</text>
<text transform="translate(1309.48 1196.88) scale(1.1098 1)" font-size="14.43" text-anchor="middle" fill="#262626" stroke="#262626" stroke-width="0.3">0</text>
<text transform="translate(1357.53 1196.88) scale(1.1098 1)" font-size="14.43" text-anchor="middle" fill="#262626" stroke="#262626" stroke-width="0.3">0</text>
<text transform="translate(1405.58 1196.88) scale(1.1098 1)" font-size="14.43" text-anchor="middle" fill="#262626" stroke="#262626" stroke-width="0.3">0</text>
<text transform="translate(1453.62 1196.88) scale(1.1098 1)" font-size="14.43" text-anchor="middle" fill="#262626" stroke="#262626" stroke-width="0.3">0</text>
<text transform="translate(1501.00 1196.88) scale(1.1098 1)" font-size="14.43" text-anchor="middle" fill="#ffffff" stroke="#ffffff" stroke-width="0.3" letter-spacing="-1.2">10</text>
<text transform="translate(1549.73 1196.88) scale(1.1098 1)" font-size="14.43" text-anchor="middle" fill="#262626" stroke="#262626" stroke-width="0.3">0</text>
<text transform="translate(1597.78 1196.88) scale(1.1098 1)" font-size="14.43" text-anchor="middle" fill="#262626" stroke="#262626" stroke-width="0.3">0</text>
<text transform="translate(1069.23 1236.52) scale(1.1098 1)" font-size="14.43" text-anchor="middle" fill="#262626" stroke="#262626" stroke-width="0.3">0</text>
<text transform="translate(1117.28 1236.52) scale(1.1098 1)" font-size="14.43" text-anchor="middle" fill="#262626" stroke="#262626" stroke-width="0.3">0</text>
<text transform="translate(1165.33 1236.52) scale(1.1098 1)" font-size="14.43" text-anchor="middle" fill="#262626" stroke="#262626" stroke-width="0.3">0</text>
<text transform="translate(1213.38 1236.52) scale(1.1098 1)" font-size="14.43" text-anchor="middle" fill="#262626" stroke="#262626" stroke-width="0.3">0</text>
<text transform="translate(1261.43 1236.52) scale(1.1098 1)" font-size="14.43" text-anchor="middle" fill="#262626" stroke="#262626" stroke-width="0.3">0</text>
<text transform="translate(1309.48 1236.52) scale(1.1098 1)" font-size="14.43" text-anchor="middle" fill="#262626" stroke="#262626" stroke-width="0.3">0</text>
<text transform="translate(1357.53 1236.52) scale(1.1098 1)" font-size="14.43" text-anchor="middle" fill="#262626" stroke="#262626" stroke-width="0.3">0</text>
<text transform="translate(1405.58 1236.52) scale(1.1098 1)" font-size="14.43" text-anchor="middle" fill="#262626" stroke="#262626" stroke-width="0.3">0</text>
<text transform="translate(1453.62 1236.52) scale(1.1098 1)" font-size="14.43" text-anchor="middle" fill="#262626" stroke="#262626" stroke-width="0.3">0</text>
<text transform="translate(1501.68 1236.52) scale(1.1098 1)" font-size="14.43" text-anchor="middle" fill="#262626" stroke="#262626" stroke-width="0.3">0</text>
<text transform="translate(1549.05 1236.52) scale(1.1098 1)" font-size="14.43" text-anchor="middle" fill="#ffffff" stroke="#ffffff" stroke-width="0.3" letter-spacing="-1.2">10</text>
<text transform="translate(1597.78 1236.52) scale(1.1098 1)" font-size="14.43" text-anchor="middle" fill="#262626" stroke="#262626" stroke-width="0.3">0</text>
<text transform="translate(1069.23 1276.15) scale(1.1098 1)" font-size="14.43" text-anchor="middle" fill="#262626" stroke="#262626" stroke-width="0.3">0</text>
<text transform="translate(1117.28 1276.15) scale(1.1098 1)" font-size="14.43" text-anchor="middle" fill="#262626" stroke="#262626" stroke-width="0.3">0</text>
<text transform="translate(1165.33 1276.15) scale(1.1098 1)" font-size="14.43" text-anchor="middle" fill="#262626" stroke="#262626" stroke-width="0.3">0</text>
<text transform="translate(1213.38 1276.15) scale(1.1098 1)" font-size="14.43" text-anchor="middle" fill="#262626" stroke="#262626" stroke-width="0.3">0</text>
<text transform="translate(1261.43 1276.15) scale(1.1098 1)" font-size="14.43" text-anchor="middle" fill="#262626" stroke="#262626" stroke-width="0.3">0</text>
<text transform="translate(1309.48 1276.15) scale(1.1098 1)" font-size="14.43" text-anchor="middle" fill="#262626" stroke="#262626" stroke-width="0.3">0</text>
<text transform="translate(1357.53 1276.15) scale(1.1098 1)" font-size="14.43" text-anchor="middle" fill="#262626" stroke="#262626" stroke-width="0.3">0</text>
<text transform="translate(1405.58 1276.15) scale(1.1098 1)" font-size="14.43" text-anchor="middle" fill="#262626" stroke="#262626" stroke-width="0.3">0</text>
<text transform="translate(1453.62 1276.15) scale(1.1098 1)" font-size="14.43" text-anchor="middle" fill="#262626" stroke="#262626" stroke-width="0.3">0</text>
<text transform="translate(1501.68 1276.15) scale(1.1098 1)" font-size="14.43" text-anchor="middle" fill="#262626" stroke="#262626" stroke-width="0.3">0</text>
<text transform="translate(1549.73 1276.15) scale(1.1098 1)" font-size="14.43" text-anchor="middle" fill="#262626" stroke="#262626" stroke-width="0.3">0</text>
<text transform="translate(1597.10 1276.15) scale(1.1098 1)" font-size="14.43" text-anchor="middle" fill="#ffffff" stroke="#ffffff" stroke-width="0.3" letter-spacing="-1.2">10</text>
<rect x="1038.80" y="834.97" width="5.50" height="1.50" fill="#1a1a1a"/>
<text transform="translate(1032.80 840.38) scale(1.1320 1)" font-size="14.15" text-anchor="end" fill="#1a1a1a" stroke="#1a1a1a" stroke-width="0.3">FBMC_QAM16</text>
<rect x="1038.80" y="874.60" width="5.50" height="1.50" fill="#1a1a1a"/>
<text transform="translate(1032.80 880.01) scale(1.1320 1)" font-size="14.15" text-anchor="end" fill="#1a1a1a" stroke="#1a1a1a" stroke-width="0.3">FBMC_QAM64</text>
<rect x="1038.80" y="914.23" width="5.50" height="1.50" fill="#1a1a1a"/>
<text transform="translate(1032.80 919.65) scale(1.1320 1)" font-size="14.15" text-anchor="end" fill="#1a1a1a" stroke="#1a1a1a" stroke-width="0.3">FOFDM_QAM16</text>
<rect x="1038.80" y="953.87" width="5.50" height="1.50" fill="#1a1a1a"/>
<text transform="translate(1032.80 959.28) scale(1.1320 1)" font-size="14.15" text-anchor="end" fill="#1a1a1a" stroke="#1a1a1a" stroke-width="0.3">FOFDM_QAM64</text>
<rect x="1038.80" y="993.50" width="5.50" height="1.50" fill="#1a1a1a"/>
<text transform="translate(1032.80 998.91) scale(1.1320 1)" font-size="14.15" text-anchor="end" fill="#1a1a1a" stroke="#1a1a1a" stroke-width="0.3">NOISE_QAM16</text>
<rect x="1038.80" y="1033.13" width="5.50" height="1.50" fill="#1a1a1a"/>
<text transform="translate(1032.80 1038.55) scale(1.1320 1)" font-size="14.15" text-anchor="end" fill="#1a1a1a" stroke="#1a1a1a" stroke-width="0.3">NOISE_QAM64</text>
<rect x="1038.80" y="1072.77" width="5.50" height="1.50" fill="#1a1a1a"/>
<text transform="translate(1032.80 1078.18) scale(1.1320 1)" font-size="14.15" text-anchor="end" fill="#1a1a1a" stroke="#1a1a1a" stroke-width="0.3">OFDM_QAM16</text>
<rect x="1038.80" y="1112.40" width="5.50" height="1.50" fill="#1a1a1a"/>
<text transform="translate(1032.80 1117.81) scale(1.1320 1)" font-size="14.15" text-anchor="end" fill="#1a1a1a" stroke="#1a1a1a" stroke-width="0.3">OFDM_QAM64</text>
<rect x="1038.80" y="1152.03" width="5.50" height="1.50" fill="#1a1a1a"/>
<text transform="translate(1032.80 1157.45) scale(1.1320 1)" font-size="14.15" text-anchor="end" fill="#1a1a1a" stroke="#1a1a1a" stroke-width="0.3">UFMC_QAM16</text>
<rect x="1038.80" y="1191.67" width="5.50" height="1.50" fill="#1a1a1a"/>
<text transform="translate(1032.80 1197.08) scale(1.1320 1)" font-size="14.15" text-anchor="end" fill="#1a1a1a" stroke="#1a1a1a" stroke-width="0.3">UFMC_QAM64</text>
<rect x="1038.80" y="1231.30" width="5.50" height="1.50" fill="#1a1a1a"/>
<text transform="translate(1032.80 1236.71) scale(1.1320 1)" font-size="14.15" text-anchor="end" fill="#1a1a1a" stroke="#1a1a1a" stroke-width="0.3">WOLA_QAM16</text>
<rect x="1038.80" y="1270.93" width="5.50" height="1.50" fill="#1a1a1a"/>
<text transform="translate(1032.80 1276.35) scale(1.1320 1)" font-size="14.15" text-anchor="end" fill="#1a1a1a" stroke="#1a1a1a" stroke-width="0.3">WOLA_QAM64</text>
<rect x="1067.98" y="1292.50" width="1.50" height="5.50" fill="#1a1a1a"/>
<text transform="translate(1072.97 1306.20) scale(1.1320 1) rotate(-90)" font-size="14.15" text-anchor="end" fill="#1a1a1a" stroke="#1a1a1a" stroke-width="0.3">FBMC_QAM16</text>
<rect x="1116.03" y="1292.50" width="1.50" height="5.50" fill="#1a1a1a"/>
<text transform="translate(1121.02 1306.20) scale(1.1320 1) rotate(-90)" font-size="14.15" text-anchor="end" fill="#1a1a1a" stroke="#1a1a1a" stroke-width="0.3">FBMC_QAM64</text>
<rect x="1164.08" y="1292.50" width="1.50" height="5.50" fill="#1a1a1a"/>
<text transform="translate(1169.07 1306.20) scale(1.1320 1) rotate(-90)" font-size="14.15" text-anchor="end" fill="#1a1a1a" stroke="#1a1a1a" stroke-width="0.3">FOFDM_QAM16</text>
<rect x="1212.12" y="1292.50" width="1.50" height="5.50" fill="#1a1a1a"/>
<text transform="translate(1217.12 1306.20) scale(1.1320 1) rotate(-90)" font-size="14.15" text-anchor="end" fill="#1a1a1a" stroke="#1a1a1a" stroke-width="0.3">FOFDM_QAM64</text>
<rect x="1260.18" y="1292.50" width="1.50" height="5.50" fill="#1a1a1a"/>
<text transform="translate(1265.17 1306.20) scale(1.1320 1) rotate(-90)" font-size="14.15" text-anchor="end" fill="#1a1a1a" stroke="#1a1a1a" stroke-width="0.3">NOISE_QAM16</text>
<rect x="1308.23" y="1292.50" width="1.50" height="5.50" fill="#1a1a1a"/>
<text transform="translate(1313.22 1306.20) scale(1.1320 1) rotate(-90)" font-size="14.15" text-anchor="end" fill="#1a1a1a" stroke="#1a1a1a" stroke-width="0.3">NOISE_QAM64</text>
<rect x="1356.28" y="1292.50" width="1.50" height="5.50" fill="#1a1a1a"/>
<text transform="translate(1361.27 1306.20) scale(1.1320 1) rotate(-90)" font-size="14.15" text-anchor="end" fill="#1a1a1a" stroke="#1a1a1a" stroke-width="0.3">OFDM_QAM16</text>
<rect x="1404.33" y="1292.50" width="1.50" height="5.50" fill="#1a1a1a"/>
<text transform="translate(1409.32 1306.20) scale(1.1320 1) rotate(-90)" font-size="14.15" text-anchor="end" fill="#1a1a1a" stroke="#1a1a1a" stroke-width="0.3">OFDM_QAM64</text>
<rect x="1452.38" y="1292.50" width="1.50" height="5.50" fill="#1a1a1a"/>
<text transform="translate(1457.37 1306.20) scale(1.1320 1) rotate(-90)" font-size="14.15" text-anchor="end" fill="#1a1a1a" stroke="#1a1a1a" stroke-width="0.3">UFMC_QAM16</text>
<rect x="1500.43" y="1292.50" width="1.50" height="5.50" fill="#1a1a1a"/>
<text transform="translate(1505.42 1306.20) scale(1.1320 1) rotate(-90)" font-size="14.15" text-anchor="end" fill="#1a1a1a" stroke="#1a1a1a" stroke-width="0.3">UFMC_QAM64</text>
<rect x="1548.48" y="1292.50" width="1.50" height="5.50" fill="#1a1a1a"/>
<text transform="translate(1553.47 1306.20) scale(1.1320 1) rotate(-90)" font-size="14.15" text-anchor="end" fill="#1a1a1a" stroke="#1a1a1a" stroke-width="0.3">WOLA_QAM16</text>
<rect x="1596.53" y="1292.50" width="1.50" height="5.50" fill="#1a1a1a"/>
<text transform="translate(1601.52 1306.20) scale(1.1320 1) rotate(-90)" font-size="14.15" text-anchor="end" fill="#1a1a1a" stroke="#1a1a1a" stroke-width="0.3">WOLA_QAM64</text>
<text transform="translate(1333.00 1429.00) scale(1.1320 1)" font-size="14.15" text-anchor="middle" fill="#1a1a1a" stroke="#1a1a1a" stroke-width="0.3">Predicted labels</text>
<text transform="translate(898.00 1055.00) scale(1.1320 1) rotate(-90)" font-size="14.15" text-anchor="middle" fill="#1a1a1a" stroke="#1a1a1a" stroke-width="0.3">True labels</text>
<text transform="translate(1333.00 807.00) scale(1.1320 1)" font-size="16.97" text-anchor="middle" fill="#1a1a1a" stroke="#1a1a1a" stroke-width="0.3">Confusion Matrix for SNR 10</text>
<defs><linearGradient id="gd" x1="0" y1="0" x2="0" y2="1"><stop offset="0.0000" stop-color="#08306b"/><stop offset="0.1250" stop-color="#08519c"/><stop offset="0.2500" stop-color="#2171b5"/><stop offset="0.3750" stop-color="#4292c6"/><stop offset="0.5000" stop-color="#6baed6"/><stop offset="0.6250" stop-color="#9ecae1"/><stop offset="0.7500" stop-color="#c6dbef"/><stop offset="0.8750" stop-color="#deebf7"/><stop offset="1.0000" stop-color="#f7fbff"/></linearGradient></defs>
<rect x="1657.30" y="815.90" width="26.80" height="475.60" fill="url(#gd)"/>
<rect x="1685.10" y="1291.25" width="5.50" height="1.50" fill="#1a1a1a"/>
<text transform="translate(1696.40 1298.37) scale(1.0885 1)" font-size="14.72" text-anchor="start" fill="#1a1a1a" stroke="#1a1a1a" stroke-width="0.3">0</text>
<rect x="1685.10" y="1196.13" width="5.50" height="1.50" fill="#1a1a1a"/>
<text transform="translate(1696.40 1203.25) scale(1.0885 1)" font-size="14.72" text-anchor="start" fill="#1a1a1a" stroke="#1a1a1a" stroke-width="0.3">2</text>
<rect x="1685.10" y="1101.01" width="5.50" height="1.50" fill="#1a1a1a"/>
<text transform="translate(1696.40 1108.13) scale(1.0885 1)" font-size="14.72" text-anchor="start" fill="#1a1a1a" stroke="#1a1a1a" stroke-width="0.3">4</text>
<rect x="1685.10" y="1005.89" width="5.50" height="1.50" fill="#1a1a1a"/>
<text transform="translate(1696.40 1013.01) scale(1.0885 1)" font-size="14.72" text-anchor="start" fill="#1a1a1a" stroke="#1a1a1a" stroke-width="0.3">6</text>
<rect x="1685.10" y="910.77" width="5.50" height="1.50" fill="#1a1a1a"/>
<text transform="translate(1696.40 917.89) scale(1.0885 1)" font-size="14.72" text-anchor="start" fill="#1a1a1a" stroke="#1a1a1a" stroke-width="0.3">8</text>
<rect x="1685.10" y="815.65" width="5.50" height="1.50" fill="#1a1a1a"/>
<text transform="translate(1697.10 822.77) scale(1.0885 1)" font-size="14.72" text-anchor="start" fill="#1a1a1a" stroke="#1a1a1a" stroke-width="0.3">10</text>
</g>
<g filter="url(#bl)">
<text x="398.50" y="771.10" font-size="52.00" text-anchor="middle" fill="#000" class="cap">(a)</text>
<text x="1300.00" y="771.10" font-size="52.00" text-anchor="middle" fill="#000" class="cap">(b)</text>
<text x="398.50" y="1547.60" font-size="52.00" text-anchor="middle" fill="#000" class="cap">(c)</text>
<text x="1300.00" y="1547.60" font-size="52.00" text-anchor="middle" fill="#000" class="cap">(d)</text>
</g>
</svg>
</body>
</html>
